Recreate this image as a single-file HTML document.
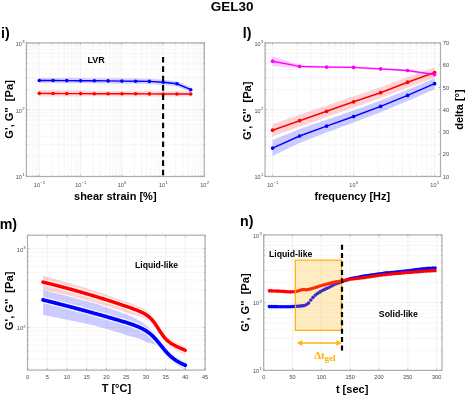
<!DOCTYPE html><html><head><meta charset="utf-8"><style>html,body{margin:0;padding:0;background:#fff;width:465px;height:395px;overflow:hidden}svg{display:block;will-change:transform}</style></head><body><svg width="465" height="395" viewBox="0 0 465 395" font-family='"Liberation Sans", sans-serif'>
<rect width="465" height="395" fill="#fff"/>
<text x="232.2" y="10.9" font-size="13.5" text-anchor="middle" font-weight="bold" fill="#000" >GEL30</text>
<text x="1" y="37.8" font-size="14.2" text-anchor="start" font-weight="bold" fill="#000" >i)</text>
<text x="242.8" y="37.7" font-size="14.2" text-anchor="start" font-weight="bold" fill="#000" >l)</text>
<text x="-0.3" y="228.9" font-size="14.2" text-anchor="start" font-weight="bold" fill="#000" >m)</text>
<text x="240" y="226.3" font-size="14.2" text-anchor="start" font-weight="bold" fill="#000" >n)</text>
<line x1="26.87" y1="42.9" x2="26.87" y2="176.5" stroke="#f1f1f1" stroke-width="0.6"/>
<line x1="30.14" y1="42.9" x2="30.14" y2="176.5" stroke="#f1f1f1" stroke-width="0.6"/>
<line x1="32.9" y1="42.9" x2="32.9" y2="176.5" stroke="#f1f1f1" stroke-width="0.6"/>
<line x1="35.3" y1="42.9" x2="35.3" y2="176.5" stroke="#f1f1f1" stroke-width="0.6"/>
<line x1="37.41" y1="42.9" x2="37.41" y2="176.5" stroke="#f1f1f1" stroke-width="0.6"/>
<line x1="51.73" y1="42.9" x2="51.73" y2="176.5" stroke="#f1f1f1" stroke-width="0.6"/>
<line x1="59.01" y1="42.9" x2="59.01" y2="176.5" stroke="#f1f1f1" stroke-width="0.6"/>
<line x1="64.17" y1="42.9" x2="64.17" y2="176.5" stroke="#f1f1f1" stroke-width="0.6"/>
<line x1="68.17" y1="42.9" x2="68.17" y2="176.5" stroke="#f1f1f1" stroke-width="0.6"/>
<line x1="71.44" y1="42.9" x2="71.44" y2="176.5" stroke="#f1f1f1" stroke-width="0.6"/>
<line x1="74.2" y1="42.9" x2="74.2" y2="176.5" stroke="#f1f1f1" stroke-width="0.6"/>
<line x1="76.6" y1="42.9" x2="76.6" y2="176.5" stroke="#f1f1f1" stroke-width="0.6"/>
<line x1="78.71" y1="42.9" x2="78.71" y2="176.5" stroke="#f1f1f1" stroke-width="0.6"/>
<line x1="93.03" y1="42.9" x2="93.03" y2="176.5" stroke="#f1f1f1" stroke-width="0.6"/>
<line x1="100.31" y1="42.9" x2="100.31" y2="176.5" stroke="#f1f1f1" stroke-width="0.6"/>
<line x1="105.47" y1="42.9" x2="105.47" y2="176.5" stroke="#f1f1f1" stroke-width="0.6"/>
<line x1="109.47" y1="42.9" x2="109.47" y2="176.5" stroke="#f1f1f1" stroke-width="0.6"/>
<line x1="112.74" y1="42.9" x2="112.74" y2="176.5" stroke="#f1f1f1" stroke-width="0.6"/>
<line x1="115.5" y1="42.9" x2="115.5" y2="176.5" stroke="#f1f1f1" stroke-width="0.6"/>
<line x1="117.9" y1="42.9" x2="117.9" y2="176.5" stroke="#f1f1f1" stroke-width="0.6"/>
<line x1="120.01" y1="42.9" x2="120.01" y2="176.5" stroke="#f1f1f1" stroke-width="0.6"/>
<line x1="134.33" y1="42.9" x2="134.33" y2="176.5" stroke="#f1f1f1" stroke-width="0.6"/>
<line x1="141.61" y1="42.9" x2="141.61" y2="176.5" stroke="#f1f1f1" stroke-width="0.6"/>
<line x1="146.77" y1="42.9" x2="146.77" y2="176.5" stroke="#f1f1f1" stroke-width="0.6"/>
<line x1="150.77" y1="42.9" x2="150.77" y2="176.5" stroke="#f1f1f1" stroke-width="0.6"/>
<line x1="154.04" y1="42.9" x2="154.04" y2="176.5" stroke="#f1f1f1" stroke-width="0.6"/>
<line x1="156.8" y1="42.9" x2="156.8" y2="176.5" stroke="#f1f1f1" stroke-width="0.6"/>
<line x1="159.2" y1="42.9" x2="159.2" y2="176.5" stroke="#f1f1f1" stroke-width="0.6"/>
<line x1="161.31" y1="42.9" x2="161.31" y2="176.5" stroke="#f1f1f1" stroke-width="0.6"/>
<line x1="175.63" y1="42.9" x2="175.63" y2="176.5" stroke="#f1f1f1" stroke-width="0.6"/>
<line x1="182.91" y1="42.9" x2="182.91" y2="176.5" stroke="#f1f1f1" stroke-width="0.6"/>
<line x1="188.07" y1="42.9" x2="188.07" y2="176.5" stroke="#f1f1f1" stroke-width="0.6"/>
<line x1="192.07" y1="42.9" x2="192.07" y2="176.5" stroke="#f1f1f1" stroke-width="0.6"/>
<line x1="195.34" y1="42.9" x2="195.34" y2="176.5" stroke="#f1f1f1" stroke-width="0.6"/>
<line x1="198.1" y1="42.9" x2="198.1" y2="176.5" stroke="#f1f1f1" stroke-width="0.6"/>
<line x1="200.5" y1="42.9" x2="200.5" y2="176.5" stroke="#f1f1f1" stroke-width="0.6"/>
<line x1="202.61" y1="42.9" x2="202.61" y2="176.5" stroke="#f1f1f1" stroke-width="0.6"/>
<line x1="39.3" y1="42.9" x2="39.3" y2="176.5" stroke="#e8e8e8" stroke-width="0.6"/>
<line x1="80.6" y1="42.9" x2="80.6" y2="176.5" stroke="#e8e8e8" stroke-width="0.6"/>
<line x1="121.9" y1="42.9" x2="121.9" y2="176.5" stroke="#e8e8e8" stroke-width="0.6"/>
<line x1="163.2" y1="42.9" x2="163.2" y2="176.5" stroke="#e8e8e8" stroke-width="0.6"/>
<line x1="204.5" y1="42.9" x2="204.5" y2="176.5" stroke="#e8e8e8" stroke-width="0.6"/>
<line x1="26.4" y1="156.39" x2="204.3" y2="156.39" stroke="#f1f1f1" stroke-width="0.6"/>
<line x1="26.4" y1="144.63" x2="204.3" y2="144.63" stroke="#f1f1f1" stroke-width="0.6"/>
<line x1="26.4" y1="136.28" x2="204.3" y2="136.28" stroke="#f1f1f1" stroke-width="0.6"/>
<line x1="26.4" y1="129.81" x2="204.3" y2="129.81" stroke="#f1f1f1" stroke-width="0.6"/>
<line x1="26.4" y1="124.52" x2="204.3" y2="124.52" stroke="#f1f1f1" stroke-width="0.6"/>
<line x1="26.4" y1="120.05" x2="204.3" y2="120.05" stroke="#f1f1f1" stroke-width="0.6"/>
<line x1="26.4" y1="116.17" x2="204.3" y2="116.17" stroke="#f1f1f1" stroke-width="0.6"/>
<line x1="26.4" y1="112.76" x2="204.3" y2="112.76" stroke="#f1f1f1" stroke-width="0.6"/>
<line x1="26.4" y1="89.59" x2="204.3" y2="89.59" stroke="#f1f1f1" stroke-width="0.6"/>
<line x1="26.4" y1="77.83" x2="204.3" y2="77.83" stroke="#f1f1f1" stroke-width="0.6"/>
<line x1="26.4" y1="69.48" x2="204.3" y2="69.48" stroke="#f1f1f1" stroke-width="0.6"/>
<line x1="26.4" y1="63.01" x2="204.3" y2="63.01" stroke="#f1f1f1" stroke-width="0.6"/>
<line x1="26.4" y1="57.72" x2="204.3" y2="57.72" stroke="#f1f1f1" stroke-width="0.6"/>
<line x1="26.4" y1="53.25" x2="204.3" y2="53.25" stroke="#f1f1f1" stroke-width="0.6"/>
<line x1="26.4" y1="49.37" x2="204.3" y2="49.37" stroke="#f1f1f1" stroke-width="0.6"/>
<line x1="26.4" y1="45.96" x2="204.3" y2="45.96" stroke="#f1f1f1" stroke-width="0.6"/>
<line x1="26.4" y1="176.5" x2="204.3" y2="176.5" stroke="#e8e8e8" stroke-width="0.6"/>
<line x1="26.4" y1="109.7" x2="204.3" y2="109.7" stroke="#e8e8e8" stroke-width="0.6"/>
<line x1="26.4" y1="42.9" x2="204.3" y2="42.9" stroke="#e8e8e8" stroke-width="0.6"/>
<rect x="26.4" y="42.9" width="177.9" height="133.6" fill="none" stroke="#adadad" stroke-width="1.2"/>
<line x1="39.3" y1="174.5" x2="39.3" y2="176.5" stroke="#a0a0a0" stroke-width="0.6"/>
<line x1="39.3" y1="42.9" x2="39.3" y2="44.9" stroke="#a0a0a0" stroke-width="0.6"/>
<line x1="80.6" y1="174.5" x2="80.6" y2="176.5" stroke="#a0a0a0" stroke-width="0.6"/>
<line x1="80.6" y1="42.9" x2="80.6" y2="44.9" stroke="#a0a0a0" stroke-width="0.6"/>
<line x1="121.9" y1="174.5" x2="121.9" y2="176.5" stroke="#a0a0a0" stroke-width="0.6"/>
<line x1="121.9" y1="42.9" x2="121.9" y2="44.9" stroke="#a0a0a0" stroke-width="0.6"/>
<line x1="163.2" y1="174.5" x2="163.2" y2="176.5" stroke="#a0a0a0" stroke-width="0.6"/>
<line x1="163.2" y1="42.9" x2="163.2" y2="44.9" stroke="#a0a0a0" stroke-width="0.6"/>
<line x1="204.5" y1="174.5" x2="204.5" y2="176.5" stroke="#a0a0a0" stroke-width="0.6"/>
<line x1="204.5" y1="42.9" x2="204.5" y2="44.9" stroke="#a0a0a0" stroke-width="0.6"/>
<line x1="26.87" y1="175.3" x2="26.87" y2="176.5" stroke="#a0a0a0" stroke-width="0.6"/>
<line x1="26.87" y1="42.9" x2="26.87" y2="44.1" stroke="#a0a0a0" stroke-width="0.6"/>
<line x1="30.14" y1="175.3" x2="30.14" y2="176.5" stroke="#a0a0a0" stroke-width="0.6"/>
<line x1="30.14" y1="42.9" x2="30.14" y2="44.1" stroke="#a0a0a0" stroke-width="0.6"/>
<line x1="32.9" y1="175.3" x2="32.9" y2="176.5" stroke="#a0a0a0" stroke-width="0.6"/>
<line x1="32.9" y1="42.9" x2="32.9" y2="44.1" stroke="#a0a0a0" stroke-width="0.6"/>
<line x1="35.3" y1="175.3" x2="35.3" y2="176.5" stroke="#a0a0a0" stroke-width="0.6"/>
<line x1="35.3" y1="42.9" x2="35.3" y2="44.1" stroke="#a0a0a0" stroke-width="0.6"/>
<line x1="37.41" y1="175.3" x2="37.41" y2="176.5" stroke="#a0a0a0" stroke-width="0.6"/>
<line x1="37.41" y1="42.9" x2="37.41" y2="44.1" stroke="#a0a0a0" stroke-width="0.6"/>
<line x1="51.73" y1="175.3" x2="51.73" y2="176.5" stroke="#a0a0a0" stroke-width="0.6"/>
<line x1="51.73" y1="42.9" x2="51.73" y2="44.1" stroke="#a0a0a0" stroke-width="0.6"/>
<line x1="59.01" y1="175.3" x2="59.01" y2="176.5" stroke="#a0a0a0" stroke-width="0.6"/>
<line x1="59.01" y1="42.9" x2="59.01" y2="44.1" stroke="#a0a0a0" stroke-width="0.6"/>
<line x1="64.17" y1="175.3" x2="64.17" y2="176.5" stroke="#a0a0a0" stroke-width="0.6"/>
<line x1="64.17" y1="42.9" x2="64.17" y2="44.1" stroke="#a0a0a0" stroke-width="0.6"/>
<line x1="68.17" y1="175.3" x2="68.17" y2="176.5" stroke="#a0a0a0" stroke-width="0.6"/>
<line x1="68.17" y1="42.9" x2="68.17" y2="44.1" stroke="#a0a0a0" stroke-width="0.6"/>
<line x1="71.44" y1="175.3" x2="71.44" y2="176.5" stroke="#a0a0a0" stroke-width="0.6"/>
<line x1="71.44" y1="42.9" x2="71.44" y2="44.1" stroke="#a0a0a0" stroke-width="0.6"/>
<line x1="74.2" y1="175.3" x2="74.2" y2="176.5" stroke="#a0a0a0" stroke-width="0.6"/>
<line x1="74.2" y1="42.9" x2="74.2" y2="44.1" stroke="#a0a0a0" stroke-width="0.6"/>
<line x1="76.6" y1="175.3" x2="76.6" y2="176.5" stroke="#a0a0a0" stroke-width="0.6"/>
<line x1="76.6" y1="42.9" x2="76.6" y2="44.1" stroke="#a0a0a0" stroke-width="0.6"/>
<line x1="78.71" y1="175.3" x2="78.71" y2="176.5" stroke="#a0a0a0" stroke-width="0.6"/>
<line x1="78.71" y1="42.9" x2="78.71" y2="44.1" stroke="#a0a0a0" stroke-width="0.6"/>
<line x1="93.03" y1="175.3" x2="93.03" y2="176.5" stroke="#a0a0a0" stroke-width="0.6"/>
<line x1="93.03" y1="42.9" x2="93.03" y2="44.1" stroke="#a0a0a0" stroke-width="0.6"/>
<line x1="100.31" y1="175.3" x2="100.31" y2="176.5" stroke="#a0a0a0" stroke-width="0.6"/>
<line x1="100.31" y1="42.9" x2="100.31" y2="44.1" stroke="#a0a0a0" stroke-width="0.6"/>
<line x1="105.47" y1="175.3" x2="105.47" y2="176.5" stroke="#a0a0a0" stroke-width="0.6"/>
<line x1="105.47" y1="42.9" x2="105.47" y2="44.1" stroke="#a0a0a0" stroke-width="0.6"/>
<line x1="109.47" y1="175.3" x2="109.47" y2="176.5" stroke="#a0a0a0" stroke-width="0.6"/>
<line x1="109.47" y1="42.9" x2="109.47" y2="44.1" stroke="#a0a0a0" stroke-width="0.6"/>
<line x1="112.74" y1="175.3" x2="112.74" y2="176.5" stroke="#a0a0a0" stroke-width="0.6"/>
<line x1="112.74" y1="42.9" x2="112.74" y2="44.1" stroke="#a0a0a0" stroke-width="0.6"/>
<line x1="115.5" y1="175.3" x2="115.5" y2="176.5" stroke="#a0a0a0" stroke-width="0.6"/>
<line x1="115.5" y1="42.9" x2="115.5" y2="44.1" stroke="#a0a0a0" stroke-width="0.6"/>
<line x1="117.9" y1="175.3" x2="117.9" y2="176.5" stroke="#a0a0a0" stroke-width="0.6"/>
<line x1="117.9" y1="42.9" x2="117.9" y2="44.1" stroke="#a0a0a0" stroke-width="0.6"/>
<line x1="120.01" y1="175.3" x2="120.01" y2="176.5" stroke="#a0a0a0" stroke-width="0.6"/>
<line x1="120.01" y1="42.9" x2="120.01" y2="44.1" stroke="#a0a0a0" stroke-width="0.6"/>
<line x1="134.33" y1="175.3" x2="134.33" y2="176.5" stroke="#a0a0a0" stroke-width="0.6"/>
<line x1="134.33" y1="42.9" x2="134.33" y2="44.1" stroke="#a0a0a0" stroke-width="0.6"/>
<line x1="141.61" y1="175.3" x2="141.61" y2="176.5" stroke="#a0a0a0" stroke-width="0.6"/>
<line x1="141.61" y1="42.9" x2="141.61" y2="44.1" stroke="#a0a0a0" stroke-width="0.6"/>
<line x1="146.77" y1="175.3" x2="146.77" y2="176.5" stroke="#a0a0a0" stroke-width="0.6"/>
<line x1="146.77" y1="42.9" x2="146.77" y2="44.1" stroke="#a0a0a0" stroke-width="0.6"/>
<line x1="150.77" y1="175.3" x2="150.77" y2="176.5" stroke="#a0a0a0" stroke-width="0.6"/>
<line x1="150.77" y1="42.9" x2="150.77" y2="44.1" stroke="#a0a0a0" stroke-width="0.6"/>
<line x1="154.04" y1="175.3" x2="154.04" y2="176.5" stroke="#a0a0a0" stroke-width="0.6"/>
<line x1="154.04" y1="42.9" x2="154.04" y2="44.1" stroke="#a0a0a0" stroke-width="0.6"/>
<line x1="156.8" y1="175.3" x2="156.8" y2="176.5" stroke="#a0a0a0" stroke-width="0.6"/>
<line x1="156.8" y1="42.9" x2="156.8" y2="44.1" stroke="#a0a0a0" stroke-width="0.6"/>
<line x1="159.2" y1="175.3" x2="159.2" y2="176.5" stroke="#a0a0a0" stroke-width="0.6"/>
<line x1="159.2" y1="42.9" x2="159.2" y2="44.1" stroke="#a0a0a0" stroke-width="0.6"/>
<line x1="161.31" y1="175.3" x2="161.31" y2="176.5" stroke="#a0a0a0" stroke-width="0.6"/>
<line x1="161.31" y1="42.9" x2="161.31" y2="44.1" stroke="#a0a0a0" stroke-width="0.6"/>
<line x1="175.63" y1="175.3" x2="175.63" y2="176.5" stroke="#a0a0a0" stroke-width="0.6"/>
<line x1="175.63" y1="42.9" x2="175.63" y2="44.1" stroke="#a0a0a0" stroke-width="0.6"/>
<line x1="182.91" y1="175.3" x2="182.91" y2="176.5" stroke="#a0a0a0" stroke-width="0.6"/>
<line x1="182.91" y1="42.9" x2="182.91" y2="44.1" stroke="#a0a0a0" stroke-width="0.6"/>
<line x1="188.07" y1="175.3" x2="188.07" y2="176.5" stroke="#a0a0a0" stroke-width="0.6"/>
<line x1="188.07" y1="42.9" x2="188.07" y2="44.1" stroke="#a0a0a0" stroke-width="0.6"/>
<line x1="192.07" y1="175.3" x2="192.07" y2="176.5" stroke="#a0a0a0" stroke-width="0.6"/>
<line x1="192.07" y1="42.9" x2="192.07" y2="44.1" stroke="#a0a0a0" stroke-width="0.6"/>
<line x1="195.34" y1="175.3" x2="195.34" y2="176.5" stroke="#a0a0a0" stroke-width="0.6"/>
<line x1="195.34" y1="42.9" x2="195.34" y2="44.1" stroke="#a0a0a0" stroke-width="0.6"/>
<line x1="198.1" y1="175.3" x2="198.1" y2="176.5" stroke="#a0a0a0" stroke-width="0.6"/>
<line x1="198.1" y1="42.9" x2="198.1" y2="44.1" stroke="#a0a0a0" stroke-width="0.6"/>
<line x1="200.5" y1="175.3" x2="200.5" y2="176.5" stroke="#a0a0a0" stroke-width="0.6"/>
<line x1="200.5" y1="42.9" x2="200.5" y2="44.1" stroke="#a0a0a0" stroke-width="0.6"/>
<line x1="202.61" y1="175.3" x2="202.61" y2="176.5" stroke="#a0a0a0" stroke-width="0.6"/>
<line x1="202.61" y1="42.9" x2="202.61" y2="44.1" stroke="#a0a0a0" stroke-width="0.6"/>
<line x1="26.4" y1="176.5" x2="28.4" y2="176.5" stroke="#a0a0a0" stroke-width="0.6"/>
<line x1="202.3" y1="176.5" x2="204.3" y2="176.5" stroke="#a0a0a0" stroke-width="0.6"/>
<line x1="26.4" y1="109.7" x2="28.4" y2="109.7" stroke="#a0a0a0" stroke-width="0.6"/>
<line x1="202.3" y1="109.7" x2="204.3" y2="109.7" stroke="#a0a0a0" stroke-width="0.6"/>
<line x1="26.4" y1="42.9" x2="28.4" y2="42.9" stroke="#a0a0a0" stroke-width="0.6"/>
<line x1="202.3" y1="42.9" x2="204.3" y2="42.9" stroke="#a0a0a0" stroke-width="0.6"/>
<line x1="26.4" y1="156.39" x2="27.6" y2="156.39" stroke="#a0a0a0" stroke-width="0.6"/>
<line x1="203.1" y1="156.39" x2="204.3" y2="156.39" stroke="#a0a0a0" stroke-width="0.6"/>
<line x1="26.4" y1="144.63" x2="27.6" y2="144.63" stroke="#a0a0a0" stroke-width="0.6"/>
<line x1="203.1" y1="144.63" x2="204.3" y2="144.63" stroke="#a0a0a0" stroke-width="0.6"/>
<line x1="26.4" y1="136.28" x2="27.6" y2="136.28" stroke="#a0a0a0" stroke-width="0.6"/>
<line x1="203.1" y1="136.28" x2="204.3" y2="136.28" stroke="#a0a0a0" stroke-width="0.6"/>
<line x1="26.4" y1="129.81" x2="27.6" y2="129.81" stroke="#a0a0a0" stroke-width="0.6"/>
<line x1="203.1" y1="129.81" x2="204.3" y2="129.81" stroke="#a0a0a0" stroke-width="0.6"/>
<line x1="26.4" y1="124.52" x2="27.6" y2="124.52" stroke="#a0a0a0" stroke-width="0.6"/>
<line x1="203.1" y1="124.52" x2="204.3" y2="124.52" stroke="#a0a0a0" stroke-width="0.6"/>
<line x1="26.4" y1="120.05" x2="27.6" y2="120.05" stroke="#a0a0a0" stroke-width="0.6"/>
<line x1="203.1" y1="120.05" x2="204.3" y2="120.05" stroke="#a0a0a0" stroke-width="0.6"/>
<line x1="26.4" y1="116.17" x2="27.6" y2="116.17" stroke="#a0a0a0" stroke-width="0.6"/>
<line x1="203.1" y1="116.17" x2="204.3" y2="116.17" stroke="#a0a0a0" stroke-width="0.6"/>
<line x1="26.4" y1="112.76" x2="27.6" y2="112.76" stroke="#a0a0a0" stroke-width="0.6"/>
<line x1="203.1" y1="112.76" x2="204.3" y2="112.76" stroke="#a0a0a0" stroke-width="0.6"/>
<line x1="26.4" y1="89.59" x2="27.6" y2="89.59" stroke="#a0a0a0" stroke-width="0.6"/>
<line x1="203.1" y1="89.59" x2="204.3" y2="89.59" stroke="#a0a0a0" stroke-width="0.6"/>
<line x1="26.4" y1="77.83" x2="27.6" y2="77.83" stroke="#a0a0a0" stroke-width="0.6"/>
<line x1="203.1" y1="77.83" x2="204.3" y2="77.83" stroke="#a0a0a0" stroke-width="0.6"/>
<line x1="26.4" y1="69.48" x2="27.6" y2="69.48" stroke="#a0a0a0" stroke-width="0.6"/>
<line x1="203.1" y1="69.48" x2="204.3" y2="69.48" stroke="#a0a0a0" stroke-width="0.6"/>
<line x1="26.4" y1="63.01" x2="27.6" y2="63.01" stroke="#a0a0a0" stroke-width="0.6"/>
<line x1="203.1" y1="63.01" x2="204.3" y2="63.01" stroke="#a0a0a0" stroke-width="0.6"/>
<line x1="26.4" y1="57.72" x2="27.6" y2="57.72" stroke="#a0a0a0" stroke-width="0.6"/>
<line x1="203.1" y1="57.72" x2="204.3" y2="57.72" stroke="#a0a0a0" stroke-width="0.6"/>
<line x1="26.4" y1="53.25" x2="27.6" y2="53.25" stroke="#a0a0a0" stroke-width="0.6"/>
<line x1="203.1" y1="53.25" x2="204.3" y2="53.25" stroke="#a0a0a0" stroke-width="0.6"/>
<line x1="26.4" y1="49.37" x2="27.6" y2="49.37" stroke="#a0a0a0" stroke-width="0.6"/>
<line x1="203.1" y1="49.37" x2="204.3" y2="49.37" stroke="#a0a0a0" stroke-width="0.6"/>
<line x1="26.4" y1="45.96" x2="27.6" y2="45.96" stroke="#a0a0a0" stroke-width="0.6"/>
<line x1="203.1" y1="45.96" x2="204.3" y2="45.96" stroke="#a0a0a0" stroke-width="0.6"/>
<text x="33.85" y="186.8" font-size="5.5" fill="#484848">10</text>
<text x="40.26" y="183.9" font-size="4.2" fill="#484848">&#8722;2</text>
<text x="75.15" y="186.8" font-size="5.5" fill="#484848">10</text>
<text x="81.56" y="183.9" font-size="4.2" fill="#484848">&#8722;1</text>
<text x="117.67" y="186.8" font-size="5.5" fill="#484848">10</text>
<text x="124.09" y="183.9" font-size="4.2" fill="#484848">0</text>
<text x="158.97" y="186.8" font-size="5.5" fill="#484848">10</text>
<text x="165.39" y="183.9" font-size="4.2" fill="#484848">1</text>
<text x="200.27" y="186.8" font-size="5.5" fill="#484848">10</text>
<text x="206.69" y="183.9" font-size="4.2" fill="#484848">2</text>
<text x="15.75" y="179.3" font-size="5.5" fill="#484848">10</text>
<text x="22.16" y="176.4" font-size="4.2" fill="#484848">1</text>
<text x="15.75" y="112.5" font-size="5.5" fill="#484848">10</text>
<text x="22.16" y="109.6" font-size="4.2" fill="#484848">2</text>
<text x="15.75" y="45.7" font-size="5.5" fill="#484848">10</text>
<text x="22.16" y="42.8" font-size="4.2" fill="#484848">3</text>
<path d="M39.3,77.9 L53.07,77.9 L66.83,78 L80.6,78.1 L94.37,78.2 L108.13,78.3 L121.9,78.5 L135.67,78.6 L149.43,78.8 L163.2,79.7 L176.97,81.2 L190.73,87.1 L190.73,92.3 L176.97,86.4 L163.2,84.9 L149.43,84 L135.67,83.8 L121.9,83.7 L108.13,83.5 L94.37,83.4 L80.6,83.3 L66.83,83.2 L53.07,83.1 L39.3,83.1 Z" fill="#0000ff" fill-opacity="0.18" stroke="none"/>
<path d="M39.3,90.1 L53.07,90.2 L66.83,90.3 L80.6,90.3 L94.37,90.9 L108.13,90.9 L121.9,91 L135.67,91 L149.43,91.1 L163.2,91.2 L176.97,91.2 L190.73,91.2 L190.73,96.6 L176.97,96.6 L163.2,96.6 L149.43,96.5 L135.67,96.4 L121.9,96.4 L108.13,96.3 L94.37,96.3 L80.6,96.6 L66.83,96.6 L53.07,96.5 L39.3,96.4 Z" fill="#ff0000" fill-opacity="0.15" stroke="none"/>
<path d="M39.3,80.5 L53.07,80.5 L66.83,80.6 L80.6,80.7 L94.37,80.8 L108.13,80.9 L121.9,81.1 L135.67,81.2 L149.43,81.4 L163.2,82.3 L176.97,83.8 L190.73,89.7" fill="none" stroke="#0000ff" stroke-width="1.45"/>
<path d="M39.3,93.4 L53.07,93.5 L66.83,93.6 L80.6,93.6 L94.37,93.7 L108.13,93.7 L121.9,93.8 L135.67,93.8 L149.43,93.9 L163.2,94 L176.97,94 L190.73,94" fill="none" stroke="#ff0000" stroke-width="1.45"/>
<circle cx="39.3" cy="80.5" r="1.8" fill="#0000ff"/>
<circle cx="53.07" cy="80.5" r="1.8" fill="#0000ff"/>
<circle cx="66.83" cy="80.6" r="1.8" fill="#0000ff"/>
<circle cx="80.6" cy="80.7" r="1.8" fill="#0000ff"/>
<circle cx="94.37" cy="80.8" r="1.8" fill="#0000ff"/>
<circle cx="108.13" cy="80.9" r="1.8" fill="#0000ff"/>
<circle cx="121.9" cy="81.1" r="1.8" fill="#0000ff"/>
<circle cx="135.67" cy="81.2" r="1.8" fill="#0000ff"/>
<circle cx="149.43" cy="81.4" r="1.8" fill="#0000ff"/>
<circle cx="163.2" cy="82.3" r="1.8" fill="#0000ff"/>
<circle cx="176.97" cy="83.8" r="1.8" fill="#0000ff"/>
<circle cx="190.73" cy="89.7" r="1.8" fill="#0000ff"/>
<circle cx="39.3" cy="93.4" r="1.8" fill="#ff0000"/>
<circle cx="53.07" cy="93.5" r="1.8" fill="#ff0000"/>
<circle cx="66.83" cy="93.6" r="1.8" fill="#ff0000"/>
<circle cx="80.6" cy="93.6" r="1.8" fill="#ff0000"/>
<circle cx="94.37" cy="93.7" r="1.8" fill="#ff0000"/>
<circle cx="108.13" cy="93.7" r="1.8" fill="#ff0000"/>
<circle cx="121.9" cy="93.8" r="1.8" fill="#ff0000"/>
<circle cx="135.67" cy="93.8" r="1.8" fill="#ff0000"/>
<circle cx="149.43" cy="93.9" r="1.8" fill="#ff0000"/>
<circle cx="163.2" cy="94" r="1.8" fill="#ff0000"/>
<circle cx="176.97" cy="94" r="1.8" fill="#ff0000"/>
<circle cx="190.73" cy="94" r="1.8" fill="#ff0000"/>
<line x1="163.1" y1="56.9" x2="163.1" y2="175.5" stroke="#000" stroke-width="2.1" stroke-dasharray="5.6,3.8"/>
<text x="87.4" y="63.2" font-size="9" text-anchor="start" font-weight="bold" fill="#000" >LVR</text>
<text x="115.3" y="199.7" font-size="11" text-anchor="middle" font-weight="bold" fill="#000" >shear strain [%]</text>
<text transform="translate(12.6,109.4) rotate(-90)" font-size="11.1" font-weight="bold" text-anchor="middle" fill="#000" xml:space="preserve">G', G''  [Pa]</text>
<line x1="264.75" y1="42.9" x2="264.75" y2="176.5" stroke="#f1f1f1" stroke-width="0.6"/>
<line x1="268.89" y1="42.9" x2="268.89" y2="176.5" stroke="#f1f1f1" stroke-width="0.6"/>
<line x1="296.98" y1="42.9" x2="296.98" y2="176.5" stroke="#f1f1f1" stroke-width="0.6"/>
<line x1="311.25" y1="42.9" x2="311.25" y2="176.5" stroke="#f1f1f1" stroke-width="0.6"/>
<line x1="321.37" y1="42.9" x2="321.37" y2="176.5" stroke="#f1f1f1" stroke-width="0.6"/>
<line x1="329.22" y1="42.9" x2="329.22" y2="176.5" stroke="#f1f1f1" stroke-width="0.6"/>
<line x1="335.63" y1="42.9" x2="335.63" y2="176.5" stroke="#f1f1f1" stroke-width="0.6"/>
<line x1="341.05" y1="42.9" x2="341.05" y2="176.5" stroke="#f1f1f1" stroke-width="0.6"/>
<line x1="345.75" y1="42.9" x2="345.75" y2="176.5" stroke="#f1f1f1" stroke-width="0.6"/>
<line x1="349.89" y1="42.9" x2="349.89" y2="176.5" stroke="#f1f1f1" stroke-width="0.6"/>
<line x1="377.98" y1="42.9" x2="377.98" y2="176.5" stroke="#f1f1f1" stroke-width="0.6"/>
<line x1="392.25" y1="42.9" x2="392.25" y2="176.5" stroke="#f1f1f1" stroke-width="0.6"/>
<line x1="402.37" y1="42.9" x2="402.37" y2="176.5" stroke="#f1f1f1" stroke-width="0.6"/>
<line x1="410.22" y1="42.9" x2="410.22" y2="176.5" stroke="#f1f1f1" stroke-width="0.6"/>
<line x1="416.63" y1="42.9" x2="416.63" y2="176.5" stroke="#f1f1f1" stroke-width="0.6"/>
<line x1="422.05" y1="42.9" x2="422.05" y2="176.5" stroke="#f1f1f1" stroke-width="0.6"/>
<line x1="426.75" y1="42.9" x2="426.75" y2="176.5" stroke="#f1f1f1" stroke-width="0.6"/>
<line x1="430.89" y1="42.9" x2="430.89" y2="176.5" stroke="#f1f1f1" stroke-width="0.6"/>
<line x1="272.6" y1="42.9" x2="272.6" y2="176.5" stroke="#e8e8e8" stroke-width="0.6"/>
<line x1="353.6" y1="42.9" x2="353.6" y2="176.5" stroke="#e8e8e8" stroke-width="0.6"/>
<line x1="434.6" y1="42.9" x2="434.6" y2="176.5" stroke="#e8e8e8" stroke-width="0.6"/>
<line x1="265.1" y1="156.39" x2="440.5" y2="156.39" stroke="#f1f1f1" stroke-width="0.6"/>
<line x1="265.1" y1="144.63" x2="440.5" y2="144.63" stroke="#f1f1f1" stroke-width="0.6"/>
<line x1="265.1" y1="136.28" x2="440.5" y2="136.28" stroke="#f1f1f1" stroke-width="0.6"/>
<line x1="265.1" y1="129.81" x2="440.5" y2="129.81" stroke="#f1f1f1" stroke-width="0.6"/>
<line x1="265.1" y1="124.52" x2="440.5" y2="124.52" stroke="#f1f1f1" stroke-width="0.6"/>
<line x1="265.1" y1="120.05" x2="440.5" y2="120.05" stroke="#f1f1f1" stroke-width="0.6"/>
<line x1="265.1" y1="116.17" x2="440.5" y2="116.17" stroke="#f1f1f1" stroke-width="0.6"/>
<line x1="265.1" y1="112.76" x2="440.5" y2="112.76" stroke="#f1f1f1" stroke-width="0.6"/>
<line x1="265.1" y1="89.59" x2="440.5" y2="89.59" stroke="#f1f1f1" stroke-width="0.6"/>
<line x1="265.1" y1="77.83" x2="440.5" y2="77.83" stroke="#f1f1f1" stroke-width="0.6"/>
<line x1="265.1" y1="69.48" x2="440.5" y2="69.48" stroke="#f1f1f1" stroke-width="0.6"/>
<line x1="265.1" y1="63.01" x2="440.5" y2="63.01" stroke="#f1f1f1" stroke-width="0.6"/>
<line x1="265.1" y1="57.72" x2="440.5" y2="57.72" stroke="#f1f1f1" stroke-width="0.6"/>
<line x1="265.1" y1="53.25" x2="440.5" y2="53.25" stroke="#f1f1f1" stroke-width="0.6"/>
<line x1="265.1" y1="49.37" x2="440.5" y2="49.37" stroke="#f1f1f1" stroke-width="0.6"/>
<line x1="265.1" y1="45.96" x2="440.5" y2="45.96" stroke="#f1f1f1" stroke-width="0.6"/>
<line x1="265.1" y1="176.5" x2="440.5" y2="176.5" stroke="#e8e8e8" stroke-width="0.6"/>
<line x1="265.1" y1="109.7" x2="440.5" y2="109.7" stroke="#e8e8e8" stroke-width="0.6"/>
<line x1="265.1" y1="42.9" x2="440.5" y2="42.9" stroke="#e8e8e8" stroke-width="0.6"/>
<rect x="265.1" y="42.9" width="175.4" height="133.6" fill="none" stroke="#adadad" stroke-width="1.2"/>
<line x1="272.6" y1="174.5" x2="272.6" y2="176.5" stroke="#a0a0a0" stroke-width="0.6"/>
<line x1="272.6" y1="42.9" x2="272.6" y2="44.9" stroke="#a0a0a0" stroke-width="0.6"/>
<line x1="353.6" y1="174.5" x2="353.6" y2="176.5" stroke="#a0a0a0" stroke-width="0.6"/>
<line x1="353.6" y1="42.9" x2="353.6" y2="44.9" stroke="#a0a0a0" stroke-width="0.6"/>
<line x1="434.6" y1="174.5" x2="434.6" y2="176.5" stroke="#a0a0a0" stroke-width="0.6"/>
<line x1="434.6" y1="42.9" x2="434.6" y2="44.9" stroke="#a0a0a0" stroke-width="0.6"/>
<line x1="264.75" y1="175.3" x2="264.75" y2="176.5" stroke="#a0a0a0" stroke-width="0.6"/>
<line x1="264.75" y1="42.9" x2="264.75" y2="44.1" stroke="#a0a0a0" stroke-width="0.6"/>
<line x1="268.89" y1="175.3" x2="268.89" y2="176.5" stroke="#a0a0a0" stroke-width="0.6"/>
<line x1="268.89" y1="42.9" x2="268.89" y2="44.1" stroke="#a0a0a0" stroke-width="0.6"/>
<line x1="296.98" y1="175.3" x2="296.98" y2="176.5" stroke="#a0a0a0" stroke-width="0.6"/>
<line x1="296.98" y1="42.9" x2="296.98" y2="44.1" stroke="#a0a0a0" stroke-width="0.6"/>
<line x1="311.25" y1="175.3" x2="311.25" y2="176.5" stroke="#a0a0a0" stroke-width="0.6"/>
<line x1="311.25" y1="42.9" x2="311.25" y2="44.1" stroke="#a0a0a0" stroke-width="0.6"/>
<line x1="321.37" y1="175.3" x2="321.37" y2="176.5" stroke="#a0a0a0" stroke-width="0.6"/>
<line x1="321.37" y1="42.9" x2="321.37" y2="44.1" stroke="#a0a0a0" stroke-width="0.6"/>
<line x1="329.22" y1="175.3" x2="329.22" y2="176.5" stroke="#a0a0a0" stroke-width="0.6"/>
<line x1="329.22" y1="42.9" x2="329.22" y2="44.1" stroke="#a0a0a0" stroke-width="0.6"/>
<line x1="335.63" y1="175.3" x2="335.63" y2="176.5" stroke="#a0a0a0" stroke-width="0.6"/>
<line x1="335.63" y1="42.9" x2="335.63" y2="44.1" stroke="#a0a0a0" stroke-width="0.6"/>
<line x1="341.05" y1="175.3" x2="341.05" y2="176.5" stroke="#a0a0a0" stroke-width="0.6"/>
<line x1="341.05" y1="42.9" x2="341.05" y2="44.1" stroke="#a0a0a0" stroke-width="0.6"/>
<line x1="345.75" y1="175.3" x2="345.75" y2="176.5" stroke="#a0a0a0" stroke-width="0.6"/>
<line x1="345.75" y1="42.9" x2="345.75" y2="44.1" stroke="#a0a0a0" stroke-width="0.6"/>
<line x1="349.89" y1="175.3" x2="349.89" y2="176.5" stroke="#a0a0a0" stroke-width="0.6"/>
<line x1="349.89" y1="42.9" x2="349.89" y2="44.1" stroke="#a0a0a0" stroke-width="0.6"/>
<line x1="377.98" y1="175.3" x2="377.98" y2="176.5" stroke="#a0a0a0" stroke-width="0.6"/>
<line x1="377.98" y1="42.9" x2="377.98" y2="44.1" stroke="#a0a0a0" stroke-width="0.6"/>
<line x1="392.25" y1="175.3" x2="392.25" y2="176.5" stroke="#a0a0a0" stroke-width="0.6"/>
<line x1="392.25" y1="42.9" x2="392.25" y2="44.1" stroke="#a0a0a0" stroke-width="0.6"/>
<line x1="402.37" y1="175.3" x2="402.37" y2="176.5" stroke="#a0a0a0" stroke-width="0.6"/>
<line x1="402.37" y1="42.9" x2="402.37" y2="44.1" stroke="#a0a0a0" stroke-width="0.6"/>
<line x1="410.22" y1="175.3" x2="410.22" y2="176.5" stroke="#a0a0a0" stroke-width="0.6"/>
<line x1="410.22" y1="42.9" x2="410.22" y2="44.1" stroke="#a0a0a0" stroke-width="0.6"/>
<line x1="416.63" y1="175.3" x2="416.63" y2="176.5" stroke="#a0a0a0" stroke-width="0.6"/>
<line x1="416.63" y1="42.9" x2="416.63" y2="44.1" stroke="#a0a0a0" stroke-width="0.6"/>
<line x1="422.05" y1="175.3" x2="422.05" y2="176.5" stroke="#a0a0a0" stroke-width="0.6"/>
<line x1="422.05" y1="42.9" x2="422.05" y2="44.1" stroke="#a0a0a0" stroke-width="0.6"/>
<line x1="426.75" y1="175.3" x2="426.75" y2="176.5" stroke="#a0a0a0" stroke-width="0.6"/>
<line x1="426.75" y1="42.9" x2="426.75" y2="44.1" stroke="#a0a0a0" stroke-width="0.6"/>
<line x1="430.89" y1="175.3" x2="430.89" y2="176.5" stroke="#a0a0a0" stroke-width="0.6"/>
<line x1="430.89" y1="42.9" x2="430.89" y2="44.1" stroke="#a0a0a0" stroke-width="0.6"/>
<line x1="265.1" y1="176.5" x2="267.1" y2="176.5" stroke="#a0a0a0" stroke-width="0.6"/>
<line x1="265.1" y1="109.7" x2="267.1" y2="109.7" stroke="#a0a0a0" stroke-width="0.6"/>
<line x1="265.1" y1="42.9" x2="267.1" y2="42.9" stroke="#a0a0a0" stroke-width="0.6"/>
<line x1="265.1" y1="156.39" x2="266.3" y2="156.39" stroke="#a0a0a0" stroke-width="0.6"/>
<line x1="265.1" y1="144.63" x2="266.3" y2="144.63" stroke="#a0a0a0" stroke-width="0.6"/>
<line x1="265.1" y1="136.28" x2="266.3" y2="136.28" stroke="#a0a0a0" stroke-width="0.6"/>
<line x1="265.1" y1="129.81" x2="266.3" y2="129.81" stroke="#a0a0a0" stroke-width="0.6"/>
<line x1="265.1" y1="124.52" x2="266.3" y2="124.52" stroke="#a0a0a0" stroke-width="0.6"/>
<line x1="265.1" y1="120.05" x2="266.3" y2="120.05" stroke="#a0a0a0" stroke-width="0.6"/>
<line x1="265.1" y1="116.17" x2="266.3" y2="116.17" stroke="#a0a0a0" stroke-width="0.6"/>
<line x1="265.1" y1="112.76" x2="266.3" y2="112.76" stroke="#a0a0a0" stroke-width="0.6"/>
<line x1="265.1" y1="89.59" x2="266.3" y2="89.59" stroke="#a0a0a0" stroke-width="0.6"/>
<line x1="265.1" y1="77.83" x2="266.3" y2="77.83" stroke="#a0a0a0" stroke-width="0.6"/>
<line x1="265.1" y1="69.48" x2="266.3" y2="69.48" stroke="#a0a0a0" stroke-width="0.6"/>
<line x1="265.1" y1="63.01" x2="266.3" y2="63.01" stroke="#a0a0a0" stroke-width="0.6"/>
<line x1="265.1" y1="57.72" x2="266.3" y2="57.72" stroke="#a0a0a0" stroke-width="0.6"/>
<line x1="265.1" y1="53.25" x2="266.3" y2="53.25" stroke="#a0a0a0" stroke-width="0.6"/>
<line x1="265.1" y1="49.37" x2="266.3" y2="49.37" stroke="#a0a0a0" stroke-width="0.6"/>
<line x1="265.1" y1="45.96" x2="266.3" y2="45.96" stroke="#a0a0a0" stroke-width="0.6"/>
<line x1="438.5" y1="176.5" x2="440.5" y2="176.5" stroke="#a0a0a0" stroke-width="0.6"/>
<text x="442.8" y="178.6" font-size="5.7" fill="#484848">10</text>
<line x1="438.5" y1="154.23" x2="440.5" y2="154.23" stroke="#a0a0a0" stroke-width="0.6"/>
<text x="442.8" y="156.33" font-size="5.7" fill="#484848">20</text>
<line x1="438.5" y1="131.97" x2="440.5" y2="131.97" stroke="#a0a0a0" stroke-width="0.6"/>
<text x="442.8" y="134.07" font-size="5.7" fill="#484848">30</text>
<line x1="438.5" y1="109.7" x2="440.5" y2="109.7" stroke="#a0a0a0" stroke-width="0.6"/>
<text x="442.8" y="111.8" font-size="5.7" fill="#484848">40</text>
<line x1="438.5" y1="87.43" x2="440.5" y2="87.43" stroke="#a0a0a0" stroke-width="0.6"/>
<text x="442.8" y="89.53" font-size="5.7" fill="#484848">50</text>
<line x1="438.5" y1="65.17" x2="440.5" y2="65.17" stroke="#a0a0a0" stroke-width="0.6"/>
<text x="442.8" y="67.27" font-size="5.7" fill="#484848">60</text>
<line x1="438.5" y1="42.9" x2="440.5" y2="42.9" stroke="#a0a0a0" stroke-width="0.6"/>
<text x="442.8" y="45" font-size="5.7" fill="#484848">70</text>
<text x="267.15" y="186.8" font-size="5.5" fill="#484848">10</text>
<text x="273.56" y="183.9" font-size="4.2" fill="#484848">&#8722;1</text>
<text x="349.37" y="186.8" font-size="5.5" fill="#484848">10</text>
<text x="355.79" y="183.9" font-size="4.2" fill="#484848">0</text>
<text x="430.37" y="186.8" font-size="5.5" fill="#484848">10</text>
<text x="436.79" y="183.9" font-size="4.2" fill="#484848">1</text>
<text x="254.55" y="179.3" font-size="5.5" fill="#484848">10</text>
<text x="260.96" y="176.4" font-size="4.2" fill="#484848">1</text>
<text x="254.55" y="112.5" font-size="5.5" fill="#484848">10</text>
<text x="260.96" y="109.6" font-size="4.2" fill="#484848">2</text>
<text x="254.55" y="45.7" font-size="5.5" fill="#484848">10</text>
<text x="260.96" y="42.8" font-size="4.2" fill="#484848">3</text>
<path d="M272.6,140.1 L299.6,129 L326.6,119.7 L353.6,110.5 L380.6,100.6 L407.6,89.8 L434.6,78.2 L434.6,89.2 L407.6,101 L380.6,112.2 L353.6,122.5 L326.6,132.5 L299.6,143 L272.6,156.1 Z" fill="#0000ff" fill-opacity="0.2" stroke="none"/>
<path d="M272.6,123.9 L299.6,114.7 L326.6,105.5 L353.6,96.2 L380.6,87.3 L407.6,77 L434.6,67.3 L434.6,77.7 L407.6,87.4 L380.6,98.1 L353.6,107.4 L326.6,117.1 L299.6,126.7 L272.6,136.5 Z" fill="#ff0000" fill-opacity="0.17" stroke="none"/>
<path d="M272.6,56.2 L299.6,64.9 L326.6,66.1 L353.6,66.4 L380.6,67.9 L407.6,69.5 L434.6,73.1 L434.6,76.1 L407.6,71.5 L380.6,69.9 L353.6,68.4 L326.6,68.1 L299.6,67.9 L272.6,66.2 Z" fill="#ff00ff" fill-opacity="0.2" stroke="none"/>
<path d="M272.6,148.1 L299.6,136 L326.6,126.1 L353.6,116.5 L380.6,106.4 L407.6,95.4 L434.6,83.7" fill="none" stroke="#0000ff" stroke-width="1.45"/>
<circle cx="272.6" cy="148.1" r="1.85" fill="#0000ff"/>
<circle cx="299.6" cy="136" r="1.85" fill="#0000ff"/>
<circle cx="326.6" cy="126.1" r="1.85" fill="#0000ff"/>
<circle cx="353.6" cy="116.5" r="1.85" fill="#0000ff"/>
<circle cx="380.6" cy="106.4" r="1.85" fill="#0000ff"/>
<circle cx="407.6" cy="95.4" r="1.85" fill="#0000ff"/>
<circle cx="434.6" cy="83.7" r="1.85" fill="#0000ff"/>
<path d="M272.6,130.2 L299.6,120.7 L326.6,111.3 L353.6,101.8 L380.6,92.7 L407.6,82.2 L434.6,72.5" fill="none" stroke="#ff0000" stroke-width="1.45"/>
<circle cx="272.6" cy="130.2" r="1.85" fill="#ff0000"/>
<circle cx="299.6" cy="120.7" r="1.85" fill="#ff0000"/>
<circle cx="326.6" cy="111.3" r="1.85" fill="#ff0000"/>
<circle cx="353.6" cy="101.8" r="1.85" fill="#ff0000"/>
<circle cx="380.6" cy="92.7" r="1.85" fill="#ff0000"/>
<circle cx="407.6" cy="82.2" r="1.85" fill="#ff0000"/>
<circle cx="434.6" cy="72.5" r="1.85" fill="#ff0000"/>
<path d="M272.6,61.2 L299.6,66.4 L326.6,67.1 L353.6,67.4 L380.6,68.9 L407.6,70.5 L434.6,74.6" fill="none" stroke="#ff00ff" stroke-width="1.45"/>
<circle cx="272.6" cy="61.2" r="1.85" fill="#ff00ff"/>
<circle cx="299.6" cy="66.4" r="1.85" fill="#ff00ff"/>
<circle cx="326.6" cy="67.1" r="1.85" fill="#ff00ff"/>
<circle cx="353.6" cy="67.4" r="1.85" fill="#ff00ff"/>
<circle cx="380.6" cy="68.9" r="1.85" fill="#ff00ff"/>
<circle cx="407.6" cy="70.5" r="1.85" fill="#ff00ff"/>
<circle cx="434.6" cy="74.6" r="1.85" fill="#ff00ff"/>
<text x="352.2" y="199.7" font-size="10.9" text-anchor="middle" font-weight="bold" fill="#000" >frequency [Hz]</text>
<text transform="translate(250.5,110.8) rotate(-90)" font-size="11.1" font-weight="bold" text-anchor="middle" fill="#000" xml:space="preserve">G', G''  [Pa]</text>
<text transform="translate(463.3,109.6) rotate(-90)" font-size="11" font-weight="bold" text-anchor="middle" fill="#000">delta [°]</text>
<line x1="27.5" y1="235.2" x2="27.5" y2="370.1" stroke="#e8e8e8" stroke-width="0.6"/>
<line x1="47.23" y1="235.2" x2="47.23" y2="370.1" stroke="#e8e8e8" stroke-width="0.6"/>
<line x1="66.97" y1="235.2" x2="66.97" y2="370.1" stroke="#e8e8e8" stroke-width="0.6"/>
<line x1="86.7" y1="235.2" x2="86.7" y2="370.1" stroke="#e8e8e8" stroke-width="0.6"/>
<line x1="106.44" y1="235.2" x2="106.44" y2="370.1" stroke="#e8e8e8" stroke-width="0.6"/>
<line x1="126.17" y1="235.2" x2="126.17" y2="370.1" stroke="#e8e8e8" stroke-width="0.6"/>
<line x1="145.91" y1="235.2" x2="145.91" y2="370.1" stroke="#e8e8e8" stroke-width="0.6"/>
<line x1="165.65" y1="235.2" x2="165.65" y2="370.1" stroke="#e8e8e8" stroke-width="0.6"/>
<line x1="185.38" y1="235.2" x2="185.38" y2="370.1" stroke="#e8e8e8" stroke-width="0.6"/>
<line x1="205.12" y1="235.2" x2="205.12" y2="370.1" stroke="#e8e8e8" stroke-width="0.6"/>
<line x1="27.5" y1="368.8" x2="205.1" y2="368.8" stroke="#f1f1f1" stroke-width="0.6"/>
<line x1="27.5" y1="358.96" x2="205.1" y2="358.96" stroke="#f1f1f1" stroke-width="0.6"/>
<line x1="27.5" y1="351.32" x2="205.1" y2="351.32" stroke="#f1f1f1" stroke-width="0.6"/>
<line x1="27.5" y1="345.08" x2="205.1" y2="345.08" stroke="#f1f1f1" stroke-width="0.6"/>
<line x1="27.5" y1="339.81" x2="205.1" y2="339.81" stroke="#f1f1f1" stroke-width="0.6"/>
<line x1="27.5" y1="335.24" x2="205.1" y2="335.24" stroke="#f1f1f1" stroke-width="0.6"/>
<line x1="27.5" y1="331.21" x2="205.1" y2="331.21" stroke="#f1f1f1" stroke-width="0.6"/>
<line x1="27.5" y1="303.88" x2="205.1" y2="303.88" stroke="#f1f1f1" stroke-width="0.6"/>
<line x1="27.5" y1="290" x2="205.1" y2="290" stroke="#f1f1f1" stroke-width="0.6"/>
<line x1="27.5" y1="280.16" x2="205.1" y2="280.16" stroke="#f1f1f1" stroke-width="0.6"/>
<line x1="27.5" y1="272.52" x2="205.1" y2="272.52" stroke="#f1f1f1" stroke-width="0.6"/>
<line x1="27.5" y1="266.28" x2="205.1" y2="266.28" stroke="#f1f1f1" stroke-width="0.6"/>
<line x1="27.5" y1="261.01" x2="205.1" y2="261.01" stroke="#f1f1f1" stroke-width="0.6"/>
<line x1="27.5" y1="256.44" x2="205.1" y2="256.44" stroke="#f1f1f1" stroke-width="0.6"/>
<line x1="27.5" y1="252.41" x2="205.1" y2="252.41" stroke="#f1f1f1" stroke-width="0.6"/>
<line x1="27.5" y1="327.6" x2="205.1" y2="327.6" stroke="#e8e8e8" stroke-width="0.6"/>
<line x1="27.5" y1="248.8" x2="205.1" y2="248.8" stroke="#e8e8e8" stroke-width="0.6"/>
<rect x="27.5" y="235.2" width="177.6" height="134.9" fill="none" stroke="#adadad" stroke-width="1.2"/>
<line x1="27.5" y1="368.1" x2="27.5" y2="370.1" stroke="#a0a0a0" stroke-width="0.6"/>
<line x1="27.5" y1="235.2" x2="27.5" y2="237.2" stroke="#a0a0a0" stroke-width="0.6"/>
<text x="27.5" y="379.3" font-size="5.6" text-anchor="middle" fill="#484848">0</text>
<line x1="47.23" y1="368.1" x2="47.23" y2="370.1" stroke="#a0a0a0" stroke-width="0.6"/>
<line x1="47.23" y1="235.2" x2="47.23" y2="237.2" stroke="#a0a0a0" stroke-width="0.6"/>
<text x="47.23" y="379.3" font-size="5.6" text-anchor="middle" fill="#484848">5</text>
<line x1="66.97" y1="368.1" x2="66.97" y2="370.1" stroke="#a0a0a0" stroke-width="0.6"/>
<line x1="66.97" y1="235.2" x2="66.97" y2="237.2" stroke="#a0a0a0" stroke-width="0.6"/>
<text x="66.97" y="379.3" font-size="5.6" text-anchor="middle" fill="#484848">10</text>
<line x1="86.7" y1="368.1" x2="86.7" y2="370.1" stroke="#a0a0a0" stroke-width="0.6"/>
<line x1="86.7" y1="235.2" x2="86.7" y2="237.2" stroke="#a0a0a0" stroke-width="0.6"/>
<text x="86.7" y="379.3" font-size="5.6" text-anchor="middle" fill="#484848">15</text>
<line x1="106.44" y1="368.1" x2="106.44" y2="370.1" stroke="#a0a0a0" stroke-width="0.6"/>
<line x1="106.44" y1="235.2" x2="106.44" y2="237.2" stroke="#a0a0a0" stroke-width="0.6"/>
<text x="106.44" y="379.3" font-size="5.6" text-anchor="middle" fill="#484848">20</text>
<line x1="126.17" y1="368.1" x2="126.17" y2="370.1" stroke="#a0a0a0" stroke-width="0.6"/>
<line x1="126.17" y1="235.2" x2="126.17" y2="237.2" stroke="#a0a0a0" stroke-width="0.6"/>
<text x="126.17" y="379.3" font-size="5.6" text-anchor="middle" fill="#484848">25</text>
<line x1="145.91" y1="368.1" x2="145.91" y2="370.1" stroke="#a0a0a0" stroke-width="0.6"/>
<line x1="145.91" y1="235.2" x2="145.91" y2="237.2" stroke="#a0a0a0" stroke-width="0.6"/>
<text x="145.91" y="379.3" font-size="5.6" text-anchor="middle" fill="#484848">30</text>
<line x1="165.65" y1="368.1" x2="165.65" y2="370.1" stroke="#a0a0a0" stroke-width="0.6"/>
<line x1="165.65" y1="235.2" x2="165.65" y2="237.2" stroke="#a0a0a0" stroke-width="0.6"/>
<text x="165.65" y="379.3" font-size="5.6" text-anchor="middle" fill="#484848">35</text>
<line x1="185.38" y1="368.1" x2="185.38" y2="370.1" stroke="#a0a0a0" stroke-width="0.6"/>
<line x1="185.38" y1="235.2" x2="185.38" y2="237.2" stroke="#a0a0a0" stroke-width="0.6"/>
<text x="185.38" y="379.3" font-size="5.6" text-anchor="middle" fill="#484848">40</text>
<line x1="205.12" y1="368.1" x2="205.12" y2="370.1" stroke="#a0a0a0" stroke-width="0.6"/>
<line x1="205.12" y1="235.2" x2="205.12" y2="237.2" stroke="#a0a0a0" stroke-width="0.6"/>
<text x="205.12" y="379.3" font-size="5.6" text-anchor="middle" fill="#484848">45</text>
<line x1="27.5" y1="327.6" x2="29.5" y2="327.6" stroke="#a0a0a0" stroke-width="0.6"/>
<line x1="203.1" y1="327.6" x2="205.1" y2="327.6" stroke="#a0a0a0" stroke-width="0.6"/>
<line x1="27.5" y1="248.8" x2="29.5" y2="248.8" stroke="#a0a0a0" stroke-width="0.6"/>
<line x1="203.1" y1="248.8" x2="205.1" y2="248.8" stroke="#a0a0a0" stroke-width="0.6"/>
<line x1="27.5" y1="368.8" x2="28.7" y2="368.8" stroke="#a0a0a0" stroke-width="0.6"/>
<line x1="203.9" y1="368.8" x2="205.1" y2="368.8" stroke="#a0a0a0" stroke-width="0.6"/>
<line x1="27.5" y1="358.96" x2="28.7" y2="358.96" stroke="#a0a0a0" stroke-width="0.6"/>
<line x1="203.9" y1="358.96" x2="205.1" y2="358.96" stroke="#a0a0a0" stroke-width="0.6"/>
<line x1="27.5" y1="351.32" x2="28.7" y2="351.32" stroke="#a0a0a0" stroke-width="0.6"/>
<line x1="203.9" y1="351.32" x2="205.1" y2="351.32" stroke="#a0a0a0" stroke-width="0.6"/>
<line x1="27.5" y1="345.08" x2="28.7" y2="345.08" stroke="#a0a0a0" stroke-width="0.6"/>
<line x1="203.9" y1="345.08" x2="205.1" y2="345.08" stroke="#a0a0a0" stroke-width="0.6"/>
<line x1="27.5" y1="339.81" x2="28.7" y2="339.81" stroke="#a0a0a0" stroke-width="0.6"/>
<line x1="203.9" y1="339.81" x2="205.1" y2="339.81" stroke="#a0a0a0" stroke-width="0.6"/>
<line x1="27.5" y1="335.24" x2="28.7" y2="335.24" stroke="#a0a0a0" stroke-width="0.6"/>
<line x1="203.9" y1="335.24" x2="205.1" y2="335.24" stroke="#a0a0a0" stroke-width="0.6"/>
<line x1="27.5" y1="331.21" x2="28.7" y2="331.21" stroke="#a0a0a0" stroke-width="0.6"/>
<line x1="203.9" y1="331.21" x2="205.1" y2="331.21" stroke="#a0a0a0" stroke-width="0.6"/>
<line x1="27.5" y1="303.88" x2="28.7" y2="303.88" stroke="#a0a0a0" stroke-width="0.6"/>
<line x1="203.9" y1="303.88" x2="205.1" y2="303.88" stroke="#a0a0a0" stroke-width="0.6"/>
<line x1="27.5" y1="290" x2="28.7" y2="290" stroke="#a0a0a0" stroke-width="0.6"/>
<line x1="203.9" y1="290" x2="205.1" y2="290" stroke="#a0a0a0" stroke-width="0.6"/>
<line x1="27.5" y1="280.16" x2="28.7" y2="280.16" stroke="#a0a0a0" stroke-width="0.6"/>
<line x1="203.9" y1="280.16" x2="205.1" y2="280.16" stroke="#a0a0a0" stroke-width="0.6"/>
<line x1="27.5" y1="272.52" x2="28.7" y2="272.52" stroke="#a0a0a0" stroke-width="0.6"/>
<line x1="203.9" y1="272.52" x2="205.1" y2="272.52" stroke="#a0a0a0" stroke-width="0.6"/>
<line x1="27.5" y1="266.28" x2="28.7" y2="266.28" stroke="#a0a0a0" stroke-width="0.6"/>
<line x1="203.9" y1="266.28" x2="205.1" y2="266.28" stroke="#a0a0a0" stroke-width="0.6"/>
<line x1="27.5" y1="261.01" x2="28.7" y2="261.01" stroke="#a0a0a0" stroke-width="0.6"/>
<line x1="203.9" y1="261.01" x2="205.1" y2="261.01" stroke="#a0a0a0" stroke-width="0.6"/>
<line x1="27.5" y1="256.44" x2="28.7" y2="256.44" stroke="#a0a0a0" stroke-width="0.6"/>
<line x1="203.9" y1="256.44" x2="205.1" y2="256.44" stroke="#a0a0a0" stroke-width="0.6"/>
<line x1="27.5" y1="252.41" x2="28.7" y2="252.41" stroke="#a0a0a0" stroke-width="0.6"/>
<line x1="203.9" y1="252.41" x2="205.1" y2="252.41" stroke="#a0a0a0" stroke-width="0.6"/>
<text x="16.85" y="330.4" font-size="5.5" fill="#484848">10</text>
<text x="23.26" y="327.5" font-size="4.2" fill="#484848">2</text>
<text x="16.85" y="251.6" font-size="5.5" fill="#484848">10</text>
<text x="23.26" y="248.7" font-size="4.2" fill="#484848">3</text>
<path d="M43,289.9 L43.75,290.08 L44.5,290.27 L45.25,290.46 L46,290.64 L46.75,290.83 L47.5,291.01 L48.25,291.2 L49,291.39 L49.75,291.57 L50.5,291.76 L51.25,291.95 L52,292.14 L52.75,292.33 L53.5,292.52 L54.25,292.71 L55,292.9 L55.75,293.09 L56.5,293.28 L57.25,293.47 L58,293.66 L58.75,293.85 L59.5,294.04 L60.25,294.23 L61,294.43 L61.75,294.62 L62.5,294.81 L63.25,295 L64,295.2 L64.75,295.39 L65.5,295.59 L66.25,295.78 L67,295.98 L67.75,296.17 L68.5,296.37 L69.25,296.56 L70,296.76 L70.75,296.96 L71.5,297.15 L72.25,297.35 L73,297.55 L73.75,297.75 L74.5,297.94 L75.25,298.14 L76,298.34 L76.75,298.54 L77.5,298.74 L78.25,298.94 L79,299.14 L79.75,299.34 L80.5,299.54 L81.25,299.74 L82,299.94 L82.75,300.15 L83.5,300.35 L84.25,300.55 L85,300.75 L85.75,300.96 L86.5,301.16 L87.25,301.36 L88,301.57 L88.75,301.77 L89.5,301.98 L90.25,302.18 L91,302.39 L91.75,302.6 L92.5,302.8 L93.25,303.01 L94,303.21 L94.75,303.42 L95.5,303.63 L96.25,303.85 L97,304.1 L97.75,304.35 L98.5,304.61 L99.25,304.86 L100,305.11 L100.75,305.36 L101.5,305.62 L102.25,305.87 L103,306.13 L103.75,306.38 L104.5,306.63 L105.25,306.89 L106,307.15 L106.75,307.4 L107.5,307.66 L108.25,307.92 L109,308.17 L109.75,308.43 L110.5,308.69 L111.25,308.95 L112,309.21 L112.75,309.47 L113.5,309.73 L114.25,309.99 L115,310.25 L115.75,310.51 L116.5,310.78 L117.25,311.04 L118,311.31 L118.75,311.57 L119.5,311.84 L120.25,312.11 L121,312.37 L121.75,312.64 L122.5,312.91 L123.25,313.19 L124,313.46 L124.75,313.74 L125.5,314.01 L126.25,314.29 L127,314.57 L127.75,314.86 L128.5,315.14 L129.25,315.43 L130,315.73 L130.75,316.02 L131.5,316.37 L132.25,316.75 L133,317.13 L133.75,317.52 L134.5,317.92 L135.25,318.32 L136,318.73 L136.75,319.14 L137.5,319.56 L138.25,319.99 L139,320.43 L139.75,320.89 L140.5,321.35 L141.25,321.82 L142,322.31 L142.75,322.82 L143.5,323.34 L144.25,323.88 L145,324.43 L145.75,325.01 L146.5,325.61 L147.25,326.23 L148,326.88 L148.75,327.58 L149.5,328.32 L150.25,329.07 L151,329.86 L151.75,330.68 L152.5,331.53 L153.25,332.4 L154,333.31 L154.75,334.25 L155.5,335.21 L156.25,336.2 L157,337.21 L157.75,338.08 L158.5,338.97 L159.25,339.88 L160,340.79 L160.75,341.71 L161.5,342.63 L162.25,343.55 L163,344.47 L163.75,345.37 L164.5,346.26 L165.25,347.13 L166,347.98 L166.75,348.8 L167.5,349.6 L168.25,350.38 L169,351.12 L169.75,351.84 L170.5,352.53 L171.25,353.19 L172,353.82 L172.75,354.42 L173.5,354.99 L174.25,355.54 L175,356.07 L175.75,356.57 L176.5,357.04 L177.25,357.5 L178,357.94 L178.75,358.36 L179.5,358.76 L180.25,359.15 L181,359.53 L181.75,359.89 L182.5,360.24 L183.25,360.58 L184,360.91 L184.75,361.23 L185.3,361.47 L185.3,369.46 L184.75,369.22 L184,368.89 L183.25,368.55 L182.5,368.21 L181.75,367.85 L181,367.48 L180.25,367.09 L179.5,366.7 L178.75,366.29 L178,365.86 L177.25,365.41 L176.5,364.95 L175.75,364.46 L175,363.95 L174.25,363.42 L173.5,362.86 L172.75,362.28 L172,361.67 L171.25,361.03 L170.5,360.37 L169.75,359.69 L169,359.01 L168.25,358.3 L167.5,357.57 L166.75,356.8 L166,356.02 L165.25,355.21 L164.5,354.37 L163.75,353.52 L163,352.66 L162.25,351.78 L161.5,350.9 L160.75,350.02 L160,349.14 L159.25,348.26 L158.5,347.39 L157.75,346.54 L157,345.71 L156.25,345.32 L155.5,344.96 L154.75,344.62 L154,344.31 L153.25,344.03 L152.5,343.78 L151.75,343.55 L151,343.36 L150.25,343.2 L149.5,343.07 L148.75,342.96 L148,342.88 L147.25,342.43 L146.5,342 L145.75,341.59 L145,341.21 L144.25,340.85 L143.5,340.5 L142.75,340.18 L142,339.87 L141.25,339.57 L140.5,339.29 L139.75,339.02 L139,338.76 L138.25,338.52 L137.5,338.28 L136.75,338.05 L136,337.83 L135.25,337.62 L134.5,337.41 L133.75,337.21 L133,337.02 L132.25,336.83 L131.5,336.64 L130.75,336.43 L130,336.18 L129.25,335.92 L128.5,335.67 L127.75,335.43 L127,335.18 L126.25,334.94 L125.5,334.7 L124.75,334.46 L124,334.22 L123.25,333.99 L122.5,333.75 L121.75,333.52 L121,333.29 L120.25,333.06 L119.5,332.83 L118.75,332.6 L118,332.37 L117.25,332.15 L116.5,331.92 L115.75,331.7 L115,331.47 L114.25,331.25 L113.5,331.03 L112.75,330.81 L112,330.58 L111.25,330.36 L110.5,330.14 L109.75,329.92 L109,329.7 L108.25,329.49 L107.5,329.27 L106.75,329.05 L106,328.83 L105.25,328.61 L104.5,328.4 L103.75,328.18 L103,327.97 L102.25,327.75 L101.5,327.53 L100.75,327.32 L100,327.11 L99.25,326.89 L98.5,326.68 L97.75,326.46 L97,326.25 L96.25,326.04 L95.5,325.86 L94.75,325.69 L94,325.52 L93.25,325.35 L92.5,325.19 L91.75,325.02 L91,324.85 L90.25,324.69 L89.5,324.52 L88.75,324.36 L88,324.19 L87.25,324.03 L86.5,323.86 L85.75,323.7 L85,323.54 L84.25,323.37 L83.5,323.21 L82.75,323.05 L82,322.88 L81.25,322.72 L80.5,322.56 L79.75,322.4 L79,322.24 L78.25,322.08 L77.5,321.92 L76.75,321.76 L76,321.6 L75.25,321.44 L74.5,321.28 L73.75,321.12 L73,320.96 L72.25,320.8 L71.5,320.65 L70.75,320.49 L70,320.33 L69.25,320.18 L68.5,320.02 L67.75,319.86 L67,319.71 L66.25,319.55 L65.5,319.4 L64.75,319.24 L64,319.09 L63.25,318.93 L62.5,318.78 L61.75,318.63 L61,318.47 L60.25,318.32 L59.5,318.17 L58.75,318.02 L58,317.87 L57.25,317.71 L56.5,317.56 L55.75,317.41 L55,317.26 L54.25,317.11 L53.5,316.96 L52.75,316.81 L52,316.66 L51.25,316.51 L50.5,316.37 L49.75,316.22 L49,316.07 L48.25,315.92 L47.5,315.78 L46.75,315.63 L46,315.48 L45.25,315.34 L44.5,315.19 L43.75,315.05 L43,314.9 Z" fill="#0000ff" fill-opacity="0.2" stroke="none"/>
<path d="M43,275.89 L43.75,276.08 L44.5,276.28 L45.25,276.48 L46,276.67 L46.75,276.87 L47.5,277.07 L48.25,277.27 L49,277.47 L49.75,277.67 L50.5,277.87 L51.25,278.07 L52,278.27 L52.75,278.48 L53.5,278.68 L54.25,278.88 L55,279.09 L55.75,279.29 L56.5,279.5 L57.25,279.71 L58,279.91 L58.75,280.12 L59.5,280.33 L60.25,280.54 L61,280.75 L61.75,280.96 L62.5,281.17 L63.25,281.38 L64,281.6 L64.75,281.81 L65.5,282.03 L66.25,282.24 L67,282.46 L67.75,282.67 L68.5,282.89 L69.25,283.11 L70,283.32 L70.75,283.54 L71.5,283.76 L72.25,283.98 L73,284.2 L73.75,284.42 L74.5,284.65 L75.25,284.87 L76,285.09 L76.75,285.31 L77.5,285.54 L78.25,285.76 L79,285.99 L79.75,286.22 L80.5,286.44 L81.25,286.67 L82,286.9 L82.75,287.13 L83.5,287.36 L84.25,287.59 L85,287.82 L85.75,288.05 L86.5,288.29 L87.25,288.52 L88,288.75 L88.75,288.99 L89.5,289.22 L90.25,289.46 L91,289.69 L91.75,289.93 L92.5,290.17 L93.25,290.41 L94,290.65 L94.75,290.89 L95.5,291.13 L96.25,291.37 L97,291.62 L97.75,291.86 L98.5,292.11 L99.25,292.36 L100,292.61 L100.75,292.86 L101.5,293.11 L102.25,293.36 L103,293.61 L103.75,293.86 L104.5,294.11 L105.25,294.37 L106,294.62 L106.75,294.87 L107.5,295.13 L108.25,295.39 L109,295.64 L109.75,295.9 L110.5,296.16 L111.25,296.42 L112,296.68 L112.75,296.94 L113.5,297.2 L114.25,297.46 L115,297.72 L115.75,297.98 L116.5,298.25 L117.25,298.51 L118,298.78 L118.75,299.04 L119.5,299.31 L120.25,299.58 L121,299.84 L121.75,300.11 L122.5,300.38 L123.25,300.65 L124,300.93 L124.75,301.2 L125.5,301.47 L126.25,301.75 L127,302.02 L127.75,302.3 L128.5,302.58 L129.25,302.86 L130,303.14 L130.75,303.42 L131.5,303.7 L132.25,303.97 L133,304.24 L133.75,304.52 L134.5,304.8 L135.25,305.08 L136,305.37 L136.75,305.66 L137.5,305.96 L138.25,306.27 L139,306.58 L139.75,306.9 L140.5,307.23 L141.25,307.57 L142,307.93 L142.75,308.3 L143.5,308.69 L144.25,309.1 L145,309.53 L145.75,309.99 L146.5,310.48 L147.25,311 L148,311.56 L148.75,312.22 L149.5,312.92 L150.25,313.67 L151,314.47 L151.75,315.33 L152.5,316.25 L153.25,317.22 L154,318.24 L154.75,319.32 L155.5,320.45 L156.25,321.62 L157,322.82 L157.75,323.98 L158.5,325.15 L159.25,326.32 L160,327.48 L160.75,328.62 L161.5,329.72 L162.25,330.77 L163,331.78 L163.75,332.74 L164.5,333.64 L165.25,334.49 L166,335.28 L166.75,336.02 L167.5,336.71 L168.25,337.36 L169,337.96 L169.75,338.52 L170.5,339.05 L171.25,339.54 L172,340.01 L172.75,340.46 L173.5,340.88 L174.25,341.29 L175,341.68 L175.75,342.06 L176.5,342.42 L177.25,342.78 L178,343.13 L178.75,343.47 L179.5,343.8 L180.25,344.13 L181,344.46 L181.75,344.78 L182.5,345.1 L183.25,345.41 L184,345.73 L184.75,346.04 L185.3,346.27 L185.3,354.76 L184.75,354.52 L184,354.2 L183.25,353.87 L182.5,353.55 L181.75,353.22 L181,352.89 L180.25,352.55 L179.5,352.21 L178.75,351.87 L178,351.52 L177.25,351.16 L176.5,350.79 L175.75,350.42 L175,350.03 L174.25,349.63 L173.5,349.21 L172.75,348.78 L172,348.32 L171.25,347.84 L170.5,347.33 L169.75,346.8 L169,346.22 L168.25,345.61 L167.5,344.96 L166.75,344.26 L166,343.51 L165.25,342.71 L164.5,341.85 L163.75,340.93 L163,339.97 L162.25,338.95 L161.5,337.88 L160.75,336.77 L160,335.62 L159.25,334.46 L158.5,333.27 L157.75,332.09 L157,330.92 L156.25,329.8 L155.5,328.7 L154.75,327.65 L154,326.64 L153.25,325.69 L152.5,324.8 L151.75,323.96 L151,323.17 L150.25,322.44 L149.5,321.77 L148.75,321.14 L148,320.56 L147.25,320.07 L146.5,319.63 L145.75,319.22 L145,318.83 L144.25,318.47 L143.5,318.14 L142.75,317.83 L142,317.53 L141.25,317.25 L140.5,316.98 L139.75,316.72 L139,316.48 L138.25,316.24 L137.5,316.01 L136.75,315.79 L136,315.57 L135.25,315.36 L134.5,315.15 L133.75,314.94 L133,314.74 L132.25,314.54 L131.5,314.35 L130.75,314.13 L130,313.86 L129.25,313.6 L128.5,313.33 L127.75,313.07 L127,312.81 L126.25,312.55 L125.5,312.3 L124.75,312.04 L124,311.79 L123.25,311.53 L122.5,311.28 L121.75,311.02 L121,310.77 L120.25,310.52 L119.5,310.27 L118.75,310.02 L118,309.77 L117.25,309.53 L116.5,309.28 L115.75,309.03 L115,308.79 L114.25,308.54 L113.5,308.3 L112.75,308.05 L112,307.81 L111.25,307.57 L110.5,307.33 L109.75,307.09 L109,306.85 L108.25,306.61 L107.5,306.37 L106.75,306.13 L106,305.89 L105.25,305.65 L104.5,305.42 L103.75,305.18 L103,304.95 L102.25,304.71 L101.5,304.48 L100.75,304.25 L100,304.01 L99.25,303.78 L98.5,303.55 L97.75,303.32 L97,303.09 L96.25,302.86 L95.5,302.65 L94.75,302.44 L94,302.23 L93.25,302.02 L92.5,301.81 L91.75,301.6 L91,301.39 L90.25,301.19 L89.5,300.98 L88.75,300.77 L88,300.57 L87.25,300.37 L86.5,300.16 L85.75,299.96 L85,299.76 L84.25,299.56 L83.5,299.36 L82.75,299.15 L82,298.96 L81.25,298.76 L80.5,298.56 L79.75,298.36 L79,298.16 L78.25,297.97 L77.5,297.77 L76.75,297.58 L76,297.38 L75.25,297.19 L74.5,297 L73.75,296.8 L73,296.61 L72.25,296.42 L71.5,296.23 L70.75,296.04 L70,295.85 L69.25,295.67 L68.5,295.48 L67.75,295.29 L67,295.1 L66.25,294.92 L65.5,294.73 L64.75,294.55 L64,294.37 L63.25,294.18 L62.5,294 L61.75,293.82 L61,293.64 L60.25,293.46 L59.5,293.28 L58.75,293.1 L58,292.92 L57.25,292.74 L56.5,292.57 L55.75,292.39 L55,292.21 L54.25,292.04 L53.5,291.86 L52.75,291.69 L52,291.52 L51.25,291.34 L50.5,291.17 L49.75,291 L49,290.83 L48.25,290.66 L47.5,290.49 L46.75,290.32 L46,290.15 L45.25,289.99 L44.5,289.82 L43.75,289.66 L43,289.49 Z" fill="#ff0000" fill-opacity="0.18" stroke="none"/>
<path d="M43,299.9 L43.75,300.08 L44.5,300.27 L45.25,300.46 L46,300.64 L46.75,300.83 L47.5,301.01 L48.25,301.2 L49,301.39 L49.75,301.57 L50.5,301.76 L51.25,301.95 L52,302.14 L52.75,302.33 L53.5,302.52 L54.25,302.71 L55,302.9 L55.75,303.09 L56.5,303.28 L57.25,303.47 L58,303.66 L58.75,303.85 L59.5,304.04 L60.25,304.23 L61,304.43 L61.75,304.62 L62.5,304.81 L63.25,305 L64,305.2 L64.75,305.39 L65.5,305.59 L66.25,305.78 L67,305.98 L67.75,306.17 L68.5,306.37 L69.25,306.56 L70,306.76 L70.75,306.96 L71.5,307.15 L72.25,307.35 L73,307.55 L73.75,307.75 L74.5,307.94 L75.25,308.14 L76,308.34 L76.75,308.54 L77.5,308.74 L78.25,308.94 L79,309.14 L79.75,309.34 L80.5,309.54 L81.25,309.74 L82,309.94 L82.75,310.15 L83.5,310.35 L84.25,310.55 L85,310.75 L85.75,310.96 L86.5,311.16 L87.25,311.36 L88,311.57 L88.75,311.77 L89.5,311.98 L90.25,312.18 L91,312.39 L91.75,312.6 L92.5,312.8 L93.25,313.01 L94,313.21 L94.75,313.42 L95.5,313.63 L96.25,313.84 L97,314.05 L97.75,314.25 L98.5,314.46 L99.25,314.67 L100,314.88 L100.75,315.09 L101.5,315.3 L102.25,315.51 L103,315.73 L103.75,315.94 L104.5,316.15 L105.25,316.36 L106,316.57 L106.75,316.79 L107.5,317 L108.25,317.22 L109,317.43 L109.75,317.65 L110.5,317.86 L111.25,318.08 L112,318.29 L112.75,318.51 L113.5,318.73 L114.25,318.95 L115,319.17 L115.75,319.39 L116.5,319.61 L117.25,319.83 L118,320.05 L118.75,320.27 L119.5,320.49 L120.25,320.72 L121,320.95 L121.75,321.17 L122.5,321.4 L123.25,321.63 L124,321.86 L124.75,322.09 L125.5,322.33 L126.25,322.56 L127,322.8 L127.75,323.04 L128.5,323.29 L129.25,323.53 L130,323.78 L130.75,324.04 L131.5,324.29 L132.25,324.55 L133,324.82 L133.75,325.09 L134.5,325.36 L135.25,325.64 L136,325.93 L136.75,326.23 L137.5,326.53 L138.25,326.84 L139,327.16 L139.75,327.5 L140.5,327.84 L141.25,328.2 L142,328.57 L142.75,328.95 L143.5,329.35 L144.25,329.77 L145,330.21 L145.75,330.67 L146.5,331.15 L147.25,331.65 L148,332.18 L148.75,332.73 L149.5,333.32 L150.25,333.92 L151,334.56 L151.75,335.23 L152.5,335.93 L153.25,336.65 L154,337.41 L154.75,338.2 L155.5,339.01 L156.25,339.85 L157,340.71 L157.75,341.59 L158.5,342.49 L159.25,343.4 L160,344.32 L160.75,345.25 L161.5,346.18 L162.25,347.11 L163,348.03 L163.75,348.94 L164.5,349.83 L165.25,350.71 L166,351.57 L166.75,352.4 L167.5,353.21 L168.25,353.99 L169,354.75 L169.75,355.47 L170.5,356.17 L171.25,356.83 L172,357.47 L172.75,358.08 L173.5,358.66 L174.25,359.22 L175,359.75 L175.75,360.26 L176.5,360.75 L177.25,361.21 L178,361.66 L178.75,362.09 L179.5,362.5 L180.25,362.89 L181,363.28 L181.75,363.65 L182.5,364.01 L183.25,364.35 L184,364.69 L184.75,365.02 L185.3,365.26" fill="none" stroke="#fff" stroke-opacity="0.75" stroke-width="6.4" stroke-linecap="butt"/>
<path d="M43,299.9 L43.75,300.08 L44.5,300.27 L45.25,300.46 L46,300.64 L46.75,300.83 L47.5,301.01 L48.25,301.2 L49,301.39 L49.75,301.57 L50.5,301.76 L51.25,301.95 L52,302.14 L52.75,302.33 L53.5,302.52 L54.25,302.71 L55,302.9 L55.75,303.09 L56.5,303.28 L57.25,303.47 L58,303.66 L58.75,303.85 L59.5,304.04 L60.25,304.23 L61,304.43 L61.75,304.62 L62.5,304.81 L63.25,305 L64,305.2 L64.75,305.39 L65.5,305.59 L66.25,305.78 L67,305.98 L67.75,306.17 L68.5,306.37 L69.25,306.56 L70,306.76 L70.75,306.96 L71.5,307.15 L72.25,307.35 L73,307.55 L73.75,307.75 L74.5,307.94 L75.25,308.14 L76,308.34 L76.75,308.54 L77.5,308.74 L78.25,308.94 L79,309.14 L79.75,309.34 L80.5,309.54 L81.25,309.74 L82,309.94 L82.75,310.15 L83.5,310.35 L84.25,310.55 L85,310.75 L85.75,310.96 L86.5,311.16 L87.25,311.36 L88,311.57 L88.75,311.77 L89.5,311.98 L90.25,312.18 L91,312.39 L91.75,312.6 L92.5,312.8 L93.25,313.01 L94,313.21 L94.75,313.42 L95.5,313.63 L96.25,313.84 L97,314.05 L97.75,314.25 L98.5,314.46 L99.25,314.67 L100,314.88 L100.75,315.09 L101.5,315.3 L102.25,315.51 L103,315.73 L103.75,315.94 L104.5,316.15 L105.25,316.36 L106,316.57 L106.75,316.79 L107.5,317 L108.25,317.22 L109,317.43 L109.75,317.65 L110.5,317.86 L111.25,318.08 L112,318.29 L112.75,318.51 L113.5,318.73 L114.25,318.95 L115,319.17 L115.75,319.39 L116.5,319.61 L117.25,319.83 L118,320.05 L118.75,320.27 L119.5,320.49 L120.25,320.72 L121,320.95 L121.75,321.17 L122.5,321.4 L123.25,321.63 L124,321.86 L124.75,322.09 L125.5,322.33 L126.25,322.56 L127,322.8 L127.75,323.04 L128.5,323.29 L129.25,323.53 L130,323.78 L130.75,324.04 L131.5,324.29 L132.25,324.55 L133,324.82 L133.75,325.09 L134.5,325.36 L135.25,325.64 L136,325.93 L136.75,326.23 L137.5,326.53 L138.25,326.84 L139,327.16 L139.75,327.5 L140.5,327.84 L141.25,328.2 L142,328.57 L142.75,328.95 L143.5,329.35 L144.25,329.77 L145,330.21 L145.75,330.67 L146.5,331.15 L147.25,331.65 L148,332.18 L148.75,332.73 L149.5,333.32 L150.25,333.92 L151,334.56 L151.75,335.23 L152.5,335.93 L153.25,336.65 L154,337.41 L154.75,338.2 L155.5,339.01 L156.25,339.85 L157,340.71 L157.75,341.59 L158.5,342.49 L159.25,343.4 L160,344.32 L160.75,345.25 L161.5,346.18 L162.25,347.11 L163,348.03 L163.75,348.94 L164.5,349.83 L165.25,350.71 L166,351.57 L166.75,352.4 L167.5,353.21 L168.25,353.99 L169,354.75 L169.75,355.47 L170.5,356.17 L171.25,356.83 L172,357.47 L172.75,358.08 L173.5,358.66 L174.25,359.22 L175,359.75 L175.75,360.26 L176.5,360.75 L177.25,361.21 L178,361.66 L178.75,362.09 L179.5,362.5 L180.25,362.89 L181,363.28 L181.75,363.65 L182.5,364.01 L183.25,364.35 L184,364.69 L184.75,365.02 L185.3,365.26" fill="none" stroke="#0000ff" stroke-width="3.7" stroke-linecap="round"/>
<path d="M43,282.09 L43.75,282.27 L44.5,282.46 L45.25,282.64 L46,282.82 L46.75,283.01 L47.5,283.19 L48.25,283.38 L49,283.57 L49.75,283.75 L50.5,283.94 L51.25,284.13 L52,284.32 L52.75,284.51 L53.5,284.7 L54.25,284.89 L55,285.08 L55.75,285.28 L56.5,285.47 L57.25,285.66 L58,285.86 L58.75,286.05 L59.5,286.25 L60.25,286.45 L61,286.65 L61.75,286.84 L62.5,287.04 L63.25,287.24 L64,287.44 L64.75,287.64 L65.5,287.84 L66.25,288.05 L67,288.25 L67.75,288.45 L68.5,288.65 L69.25,288.86 L70,289.06 L70.75,289.27 L71.5,289.48 L72.25,289.68 L73,289.89 L73.75,290.1 L74.5,290.31 L75.25,290.52 L76,290.73 L76.75,290.94 L77.5,291.15 L78.25,291.37 L79,291.58 L79.75,291.79 L80.5,292.01 L81.25,292.22 L82,292.44 L82.75,292.65 L83.5,292.87 L84.25,293.09 L85,293.31 L85.75,293.53 L86.5,293.75 L87.25,293.97 L88,294.19 L88.75,294.41 L89.5,294.63 L90.25,294.86 L91,295.08 L91.75,295.3 L92.5,295.53 L93.25,295.75 L94,295.98 L94.75,296.21 L95.5,296.44 L96.25,296.66 L97,296.89 L97.75,297.12 L98.5,297.35 L99.25,297.58 L100,297.81 L100.75,298.05 L101.5,298.28 L102.25,298.51 L103,298.75 L103.75,298.98 L104.5,299.22 L105.25,299.45 L106,299.69 L106.75,299.93 L107.5,300.17 L108.25,300.41 L109,300.65 L109.75,300.89 L110.5,301.13 L111.25,301.37 L112,301.61 L112.75,301.85 L113.5,302.1 L114.25,302.34 L115,302.59 L115.75,302.83 L116.5,303.08 L117.25,303.33 L118,303.57 L118.75,303.82 L119.5,304.07 L120.25,304.32 L121,304.57 L121.75,304.82 L122.5,305.08 L123.25,305.33 L124,305.59 L124.75,305.84 L125.5,306.1 L126.25,306.35 L127,306.61 L127.75,306.87 L128.5,307.13 L129.25,307.4 L130,307.66 L130.75,307.93 L131.5,308.2 L132.25,308.47 L133,308.74 L133.75,309.02 L134.5,309.3 L135.25,309.58 L136,309.87 L136.75,310.16 L137.5,310.46 L138.25,310.77 L139,311.08 L139.75,311.4 L140.5,311.73 L141.25,312.07 L142,312.43 L142.75,312.8 L143.5,313.19 L144.25,313.6 L145,314.03 L145.75,314.49 L146.5,314.98 L147.25,315.5 L148,316.06 L148.75,316.66 L149.5,317.3 L150.25,317.99 L151,318.74 L151.75,319.54 L152.5,320.4 L153.25,321.31 L154,322.28 L154.75,323.3 L155.5,324.37 L156.25,325.48 L157,326.62 L157.75,327.79 L158.5,328.96 L159.25,330.14 L160,331.3 L160.75,332.44 L161.5,333.55 L162.25,334.61 L163,335.63 L163.75,336.59 L164.5,337.5 L165.25,338.35 L166,339.15 L166.75,339.89 L167.5,340.59 L168.25,341.24 L169,341.84 L169.75,342.41 L170.5,342.94 L171.25,343.44 L172,343.92 L172.75,344.37 L173.5,344.8 L174.25,345.21 L175,345.6 L175.75,345.99 L176.5,346.36 L177.25,346.72 L178,347.07 L178.75,347.42 L179.5,347.76 L180.25,348.09 L181,348.42 L181.75,348.75 L182.5,349.07 L183.25,349.39 L184,349.71 L184.75,350.03 L185.3,350.26" fill="none" stroke="#fff" stroke-opacity="0.75" stroke-width="6.2" stroke-linecap="butt"/>
<path d="M43,282.09 L43.75,282.27 L44.5,282.46 L45.25,282.64 L46,282.82 L46.75,283.01 L47.5,283.19 L48.25,283.38 L49,283.57 L49.75,283.75 L50.5,283.94 L51.25,284.13 L52,284.32 L52.75,284.51 L53.5,284.7 L54.25,284.89 L55,285.08 L55.75,285.28 L56.5,285.47 L57.25,285.66 L58,285.86 L58.75,286.05 L59.5,286.25 L60.25,286.45 L61,286.65 L61.75,286.84 L62.5,287.04 L63.25,287.24 L64,287.44 L64.75,287.64 L65.5,287.84 L66.25,288.05 L67,288.25 L67.75,288.45 L68.5,288.65 L69.25,288.86 L70,289.06 L70.75,289.27 L71.5,289.48 L72.25,289.68 L73,289.89 L73.75,290.1 L74.5,290.31 L75.25,290.52 L76,290.73 L76.75,290.94 L77.5,291.15 L78.25,291.37 L79,291.58 L79.75,291.79 L80.5,292.01 L81.25,292.22 L82,292.44 L82.75,292.65 L83.5,292.87 L84.25,293.09 L85,293.31 L85.75,293.53 L86.5,293.75 L87.25,293.97 L88,294.19 L88.75,294.41 L89.5,294.63 L90.25,294.86 L91,295.08 L91.75,295.3 L92.5,295.53 L93.25,295.75 L94,295.98 L94.75,296.21 L95.5,296.44 L96.25,296.66 L97,296.89 L97.75,297.12 L98.5,297.35 L99.25,297.58 L100,297.81 L100.75,298.05 L101.5,298.28 L102.25,298.51 L103,298.75 L103.75,298.98 L104.5,299.22 L105.25,299.45 L106,299.69 L106.75,299.93 L107.5,300.17 L108.25,300.41 L109,300.65 L109.75,300.89 L110.5,301.13 L111.25,301.37 L112,301.61 L112.75,301.85 L113.5,302.1 L114.25,302.34 L115,302.59 L115.75,302.83 L116.5,303.08 L117.25,303.33 L118,303.57 L118.75,303.82 L119.5,304.07 L120.25,304.32 L121,304.57 L121.75,304.82 L122.5,305.08 L123.25,305.33 L124,305.59 L124.75,305.84 L125.5,306.1 L126.25,306.35 L127,306.61 L127.75,306.87 L128.5,307.13 L129.25,307.4 L130,307.66 L130.75,307.93 L131.5,308.2 L132.25,308.47 L133,308.74 L133.75,309.02 L134.5,309.3 L135.25,309.58 L136,309.87 L136.75,310.16 L137.5,310.46 L138.25,310.77 L139,311.08 L139.75,311.4 L140.5,311.73 L141.25,312.07 L142,312.43 L142.75,312.8 L143.5,313.19 L144.25,313.6 L145,314.03 L145.75,314.49 L146.5,314.98 L147.25,315.5 L148,316.06 L148.75,316.66 L149.5,317.3 L150.25,317.99 L151,318.74 L151.75,319.54 L152.5,320.4 L153.25,321.31 L154,322.28 L154.75,323.3 L155.5,324.37 L156.25,325.48 L157,326.62 L157.75,327.79 L158.5,328.96 L159.25,330.14 L160,331.3 L160.75,332.44 L161.5,333.55 L162.25,334.61 L163,335.63 L163.75,336.59 L164.5,337.5 L165.25,338.35 L166,339.15 L166.75,339.89 L167.5,340.59 L168.25,341.24 L169,341.84 L169.75,342.41 L170.5,342.94 L171.25,343.44 L172,343.92 L172.75,344.37 L173.5,344.8 L174.25,345.21 L175,345.6 L175.75,345.99 L176.5,346.36 L177.25,346.72 L178,347.07 L178.75,347.42 L179.5,347.76 L180.25,348.09 L181,348.42 L181.75,348.75 L182.5,349.07 L183.25,349.39 L184,349.71 L184.75,350.03 L185.3,350.26" fill="none" stroke="#ff0000" stroke-width="3.5" stroke-linecap="round"/>
<text x="135.1" y="268" font-size="8.6" text-anchor="start" font-weight="bold" fill="#000" >Liquid-like</text>
<text x="116.4" y="392.4" font-size="11" text-anchor="middle" font-weight="bold" fill="#000" >T [°C]</text>
<text transform="translate(13.2,300.9) rotate(-90)" font-size="11.1" font-weight="bold" text-anchor="middle" fill="#000" xml:space="preserve">G', G''  [Pa]</text>
<line x1="263.7" y1="234.9" x2="263.7" y2="370.4" stroke="#e8e8e8" stroke-width="0.6"/>
<line x1="292.52" y1="234.9" x2="292.52" y2="370.4" stroke="#e8e8e8" stroke-width="0.6"/>
<line x1="321.35" y1="234.9" x2="321.35" y2="370.4" stroke="#e8e8e8" stroke-width="0.6"/>
<line x1="350.18" y1="234.9" x2="350.18" y2="370.4" stroke="#e8e8e8" stroke-width="0.6"/>
<line x1="379" y1="234.9" x2="379" y2="370.4" stroke="#e8e8e8" stroke-width="0.6"/>
<line x1="407.82" y1="234.9" x2="407.82" y2="370.4" stroke="#e8e8e8" stroke-width="0.6"/>
<line x1="436.65" y1="234.9" x2="436.65" y2="370.4" stroke="#e8e8e8" stroke-width="0.6"/>
<line x1="263.7" y1="350.01" x2="442" y2="350.01" stroke="#f1f1f1" stroke-width="0.6"/>
<line x1="263.7" y1="338.08" x2="442" y2="338.08" stroke="#f1f1f1" stroke-width="0.6"/>
<line x1="263.7" y1="329.61" x2="442" y2="329.61" stroke="#f1f1f1" stroke-width="0.6"/>
<line x1="263.7" y1="323.04" x2="442" y2="323.04" stroke="#f1f1f1" stroke-width="0.6"/>
<line x1="263.7" y1="317.68" x2="442" y2="317.68" stroke="#f1f1f1" stroke-width="0.6"/>
<line x1="263.7" y1="313.14" x2="442" y2="313.14" stroke="#f1f1f1" stroke-width="0.6"/>
<line x1="263.7" y1="309.22" x2="442" y2="309.22" stroke="#f1f1f1" stroke-width="0.6"/>
<line x1="263.7" y1="305.75" x2="442" y2="305.75" stroke="#f1f1f1" stroke-width="0.6"/>
<line x1="263.7" y1="282.26" x2="442" y2="282.26" stroke="#f1f1f1" stroke-width="0.6"/>
<line x1="263.7" y1="270.33" x2="442" y2="270.33" stroke="#f1f1f1" stroke-width="0.6"/>
<line x1="263.7" y1="261.86" x2="442" y2="261.86" stroke="#f1f1f1" stroke-width="0.6"/>
<line x1="263.7" y1="255.29" x2="442" y2="255.29" stroke="#f1f1f1" stroke-width="0.6"/>
<line x1="263.7" y1="249.93" x2="442" y2="249.93" stroke="#f1f1f1" stroke-width="0.6"/>
<line x1="263.7" y1="245.39" x2="442" y2="245.39" stroke="#f1f1f1" stroke-width="0.6"/>
<line x1="263.7" y1="241.47" x2="442" y2="241.47" stroke="#f1f1f1" stroke-width="0.6"/>
<line x1="263.7" y1="238" x2="442" y2="238" stroke="#f1f1f1" stroke-width="0.6"/>
<line x1="263.7" y1="370.4" x2="442" y2="370.4" stroke="#e8e8e8" stroke-width="0.6"/>
<line x1="263.7" y1="302.65" x2="442" y2="302.65" stroke="#e8e8e8" stroke-width="0.6"/>
<line x1="263.7" y1="234.9" x2="442" y2="234.9" stroke="#e8e8e8" stroke-width="0.6"/>
<rect x="263.7" y="234.9" width="178.3" height="135.5" fill="none" stroke="#adadad" stroke-width="1.2"/>
<line x1="263.7" y1="368.4" x2="263.7" y2="370.4" stroke="#a0a0a0" stroke-width="0.6"/>
<line x1="263.7" y1="234.9" x2="263.7" y2="236.9" stroke="#a0a0a0" stroke-width="0.6"/>
<text x="263.7" y="379.3" font-size="5.6" text-anchor="middle" fill="#484848">0</text>
<line x1="292.52" y1="368.4" x2="292.52" y2="370.4" stroke="#a0a0a0" stroke-width="0.6"/>
<line x1="292.52" y1="234.9" x2="292.52" y2="236.9" stroke="#a0a0a0" stroke-width="0.6"/>
<text x="292.52" y="379.3" font-size="5.6" text-anchor="middle" fill="#484848">50</text>
<line x1="321.35" y1="368.4" x2="321.35" y2="370.4" stroke="#a0a0a0" stroke-width="0.6"/>
<line x1="321.35" y1="234.9" x2="321.35" y2="236.9" stroke="#a0a0a0" stroke-width="0.6"/>
<text x="321.35" y="379.3" font-size="5.6" text-anchor="middle" fill="#484848">100</text>
<line x1="350.18" y1="368.4" x2="350.18" y2="370.4" stroke="#a0a0a0" stroke-width="0.6"/>
<line x1="350.18" y1="234.9" x2="350.18" y2="236.9" stroke="#a0a0a0" stroke-width="0.6"/>
<text x="350.18" y="379.3" font-size="5.6" text-anchor="middle" fill="#484848">150</text>
<line x1="379" y1="368.4" x2="379" y2="370.4" stroke="#a0a0a0" stroke-width="0.6"/>
<line x1="379" y1="234.9" x2="379" y2="236.9" stroke="#a0a0a0" stroke-width="0.6"/>
<text x="379" y="379.3" font-size="5.6" text-anchor="middle" fill="#484848">200</text>
<line x1="407.82" y1="368.4" x2="407.82" y2="370.4" stroke="#a0a0a0" stroke-width="0.6"/>
<line x1="407.82" y1="234.9" x2="407.82" y2="236.9" stroke="#a0a0a0" stroke-width="0.6"/>
<text x="407.82" y="379.3" font-size="5.6" text-anchor="middle" fill="#484848">250</text>
<line x1="436.65" y1="368.4" x2="436.65" y2="370.4" stroke="#a0a0a0" stroke-width="0.6"/>
<line x1="436.65" y1="234.9" x2="436.65" y2="236.9" stroke="#a0a0a0" stroke-width="0.6"/>
<text x="436.65" y="379.3" font-size="5.6" text-anchor="middle" fill="#484848">300</text>
<line x1="263.7" y1="370.4" x2="265.7" y2="370.4" stroke="#a0a0a0" stroke-width="0.6"/>
<line x1="440" y1="370.4" x2="442" y2="370.4" stroke="#a0a0a0" stroke-width="0.6"/>
<line x1="263.7" y1="302.65" x2="265.7" y2="302.65" stroke="#a0a0a0" stroke-width="0.6"/>
<line x1="440" y1="302.65" x2="442" y2="302.65" stroke="#a0a0a0" stroke-width="0.6"/>
<line x1="263.7" y1="234.9" x2="265.7" y2="234.9" stroke="#a0a0a0" stroke-width="0.6"/>
<line x1="440" y1="234.9" x2="442" y2="234.9" stroke="#a0a0a0" stroke-width="0.6"/>
<line x1="263.7" y1="350.01" x2="264.9" y2="350.01" stroke="#a0a0a0" stroke-width="0.6"/>
<line x1="440.8" y1="350.01" x2="442" y2="350.01" stroke="#a0a0a0" stroke-width="0.6"/>
<line x1="263.7" y1="338.08" x2="264.9" y2="338.08" stroke="#a0a0a0" stroke-width="0.6"/>
<line x1="440.8" y1="338.08" x2="442" y2="338.08" stroke="#a0a0a0" stroke-width="0.6"/>
<line x1="263.7" y1="329.61" x2="264.9" y2="329.61" stroke="#a0a0a0" stroke-width="0.6"/>
<line x1="440.8" y1="329.61" x2="442" y2="329.61" stroke="#a0a0a0" stroke-width="0.6"/>
<line x1="263.7" y1="323.04" x2="264.9" y2="323.04" stroke="#a0a0a0" stroke-width="0.6"/>
<line x1="440.8" y1="323.04" x2="442" y2="323.04" stroke="#a0a0a0" stroke-width="0.6"/>
<line x1="263.7" y1="317.68" x2="264.9" y2="317.68" stroke="#a0a0a0" stroke-width="0.6"/>
<line x1="440.8" y1="317.68" x2="442" y2="317.68" stroke="#a0a0a0" stroke-width="0.6"/>
<line x1="263.7" y1="313.14" x2="264.9" y2="313.14" stroke="#a0a0a0" stroke-width="0.6"/>
<line x1="440.8" y1="313.14" x2="442" y2="313.14" stroke="#a0a0a0" stroke-width="0.6"/>
<line x1="263.7" y1="309.22" x2="264.9" y2="309.22" stroke="#a0a0a0" stroke-width="0.6"/>
<line x1="440.8" y1="309.22" x2="442" y2="309.22" stroke="#a0a0a0" stroke-width="0.6"/>
<line x1="263.7" y1="305.75" x2="264.9" y2="305.75" stroke="#a0a0a0" stroke-width="0.6"/>
<line x1="440.8" y1="305.75" x2="442" y2="305.75" stroke="#a0a0a0" stroke-width="0.6"/>
<line x1="263.7" y1="282.26" x2="264.9" y2="282.26" stroke="#a0a0a0" stroke-width="0.6"/>
<line x1="440.8" y1="282.26" x2="442" y2="282.26" stroke="#a0a0a0" stroke-width="0.6"/>
<line x1="263.7" y1="270.33" x2="264.9" y2="270.33" stroke="#a0a0a0" stroke-width="0.6"/>
<line x1="440.8" y1="270.33" x2="442" y2="270.33" stroke="#a0a0a0" stroke-width="0.6"/>
<line x1="263.7" y1="261.86" x2="264.9" y2="261.86" stroke="#a0a0a0" stroke-width="0.6"/>
<line x1="440.8" y1="261.86" x2="442" y2="261.86" stroke="#a0a0a0" stroke-width="0.6"/>
<line x1="263.7" y1="255.29" x2="264.9" y2="255.29" stroke="#a0a0a0" stroke-width="0.6"/>
<line x1="440.8" y1="255.29" x2="442" y2="255.29" stroke="#a0a0a0" stroke-width="0.6"/>
<line x1="263.7" y1="249.93" x2="264.9" y2="249.93" stroke="#a0a0a0" stroke-width="0.6"/>
<line x1="440.8" y1="249.93" x2="442" y2="249.93" stroke="#a0a0a0" stroke-width="0.6"/>
<line x1="263.7" y1="245.39" x2="264.9" y2="245.39" stroke="#a0a0a0" stroke-width="0.6"/>
<line x1="440.8" y1="245.39" x2="442" y2="245.39" stroke="#a0a0a0" stroke-width="0.6"/>
<line x1="263.7" y1="241.47" x2="264.9" y2="241.47" stroke="#a0a0a0" stroke-width="0.6"/>
<line x1="440.8" y1="241.47" x2="442" y2="241.47" stroke="#a0a0a0" stroke-width="0.6"/>
<line x1="263.7" y1="238" x2="264.9" y2="238" stroke="#a0a0a0" stroke-width="0.6"/>
<line x1="440.8" y1="238" x2="442" y2="238" stroke="#a0a0a0" stroke-width="0.6"/>
<text x="253.05" y="373.2" font-size="5.5" fill="#484848">10</text>
<text x="259.46" y="370.3" font-size="4.2" fill="#484848">1</text>
<text x="253.05" y="305.45" font-size="5.5" fill="#484848">10</text>
<text x="259.46" y="302.55" font-size="4.2" fill="#484848">2</text>
<text x="253.05" y="237.7" font-size="5.5" fill="#484848">10</text>
<text x="259.46" y="234.8" font-size="4.2" fill="#484848">3</text>
<g fill="#0000ff"><circle cx="269.4" cy="306.61" r="1.8"/><circle cx="271.7" cy="306.63" r="1.8"/><circle cx="274" cy="306.65" r="1.8"/><circle cx="276.3" cy="306.67" r="1.8"/><circle cx="278.6" cy="306.69" r="1.8"/><circle cx="280.9" cy="306.71" r="1.8"/><circle cx="283.2" cy="306.73" r="1.8"/><circle cx="285.5" cy="306.75" r="1.8"/><circle cx="287.8" cy="306.78" r="1.8"/><circle cx="290.1" cy="306.79" r="1.8"/><circle cx="292.4" cy="306.61" r="1.8"/><circle cx="294.7" cy="306.42" r="1.8"/><circle cx="297" cy="306.28" r="1.8"/><circle cx="299.3" cy="306.14" r="1.8"/><circle cx="301.6" cy="305.91" r="1.8"/><circle cx="303.9" cy="305.63" r="1.8"/><circle cx="306.2" cy="304.82" r="1.8"/><circle cx="308.5" cy="303.12" r="1.8"/><circle cx="310.8" cy="300.02" r="1.8"/><circle cx="313.1" cy="297.33" r="1.8"/><circle cx="315.4" cy="295.09" r="1.8"/><circle cx="317.7" cy="293.4" r="1.8"/><circle cx="320" cy="291.9" r="1.8"/><circle cx="322.3" cy="290.46" r="1.8"/><circle cx="324.6" cy="289.41" r="1.8"/><circle cx="326.9" cy="288.36" r="1.8"/><circle cx="329.2" cy="287.29" r="1.8"/><circle cx="331.5" cy="286.07" r="1.8"/><circle cx="333.8" cy="284.84" r="1.8"/><circle cx="336.1" cy="283.79" r="1.8"/><circle cx="338.4" cy="282.94" r="1.8"/><circle cx="340.7" cy="282.08" r="1.8"/><circle cx="343" cy="281.25" r="1.8"/><circle cx="345.3" cy="280.45" r="1.8"/><circle cx="347.6" cy="279.64" r="1.8"/><circle cx="349.9" cy="278.84" r="1.8"/><circle cx="352.2" cy="278.36" r="1.8"/><circle cx="354.5" cy="277.9" r="1.8"/><circle cx="356.8" cy="277.44" r="1.8"/><circle cx="359.1" cy="276.98" r="1.8"/><circle cx="361.4" cy="276.52" r="1.8"/><circle cx="363.7" cy="276.17" r="1.8"/><circle cx="366" cy="275.83" r="1.8"/><circle cx="368.3" cy="275.49" r="1.8"/><circle cx="370.6" cy="275.15" r="1.8"/><circle cx="372.9" cy="274.8" r="1.8"/><circle cx="375.2" cy="274.46" r="1.8"/><circle cx="377.5" cy="274.12" r="1.8"/><circle cx="379.8" cy="273.78" r="1.8"/><circle cx="382.1" cy="273.43" r="1.8"/><circle cx="384.4" cy="273.16" r="1.8"/><circle cx="386.7" cy="272.92" r="1.8"/><circle cx="389" cy="272.69" r="1.8"/><circle cx="391.3" cy="272.45" r="1.8"/><circle cx="393.6" cy="272.22" r="1.8"/><circle cx="395.9" cy="271.98" r="1.8"/><circle cx="398.2" cy="271.74" r="1.8"/><circle cx="400.5" cy="271.51" r="1.8"/><circle cx="402.8" cy="271.27" r="1.8"/><circle cx="405.1" cy="271.03" r="1.8"/><circle cx="407.4" cy="270.75" r="1.8"/><circle cx="409.7" cy="270.47" r="1.8"/><circle cx="412" cy="270.19" r="1.8"/><circle cx="414.3" cy="269.91" r="1.8"/><circle cx="416.6" cy="269.64" r="1.8"/><circle cx="418.9" cy="269.36" r="1.8"/><circle cx="421.2" cy="269.08" r="1.8"/><circle cx="423.5" cy="268.8" r="1.8"/><circle cx="425.8" cy="268.52" r="1.8"/><circle cx="428.1" cy="268.39" r="1.8"/><circle cx="430.4" cy="268.28" r="1.8"/><circle cx="432.7" cy="268.16" r="1.8"/><circle cx="435" cy="268.04" r="1.8"/></g>
<g fill="#ff0000"><circle cx="269.4" cy="290.85" r="1.8"/><circle cx="271.7" cy="290.92" r="1.8"/><circle cx="274" cy="291" r="1.8"/><circle cx="276.3" cy="291.08" r="1.8"/><circle cx="278.6" cy="291.15" r="1.8"/><circle cx="280.9" cy="291.26" r="1.8"/><circle cx="283.2" cy="291.42" r="1.8"/><circle cx="285.5" cy="291.58" r="1.8"/><circle cx="287.8" cy="291.75" r="1.8"/><circle cx="290.1" cy="291.9" r="1.8"/><circle cx="292.4" cy="291.81" r="1.8"/><circle cx="294.7" cy="291.72" r="1.8"/><circle cx="297" cy="291.21" r="1.8"/><circle cx="299.3" cy="290.59" r="1.8"/><circle cx="301.6" cy="289.87" r="1.8"/><circle cx="303.9" cy="289.49" r="1.8"/><circle cx="306.2" cy="289.84" r="1.8"/><circle cx="308.5" cy="289.55" r="1.8"/><circle cx="310.8" cy="288.87" r="1.8"/><circle cx="313.1" cy="288.22" r="1.8"/><circle cx="315.4" cy="287.57" r="1.8"/><circle cx="317.7" cy="286.83" r="1.8"/><circle cx="320" cy="286.07" r="1.8"/><circle cx="322.3" cy="285.32" r="1.8"/><circle cx="324.6" cy="284.69" r="1.8"/><circle cx="326.9" cy="284.07" r="1.8"/><circle cx="329.2" cy="283.45" r="1.8"/><circle cx="331.5" cy="282.92" r="1.8"/><circle cx="333.8" cy="282.38" r="1.8"/><circle cx="336.1" cy="281.91" r="1.8"/><circle cx="338.4" cy="281.52" r="1.8"/><circle cx="340.7" cy="281.12" r="1.8"/><circle cx="343" cy="280.7" r="1.8"/><circle cx="345.3" cy="280.24" r="1.8"/><circle cx="347.6" cy="279.78" r="1.8"/><circle cx="349.9" cy="279.32" r="1.8"/><circle cx="352.2" cy="279.05" r="1.8"/><circle cx="354.5" cy="278.79" r="1.8"/><circle cx="356.8" cy="278.53" r="1.8"/><circle cx="359.1" cy="278.27" r="1.8"/><circle cx="361.4" cy="278.01" r="1.8"/><circle cx="363.7" cy="277.67" r="1.8"/><circle cx="366" cy="277.33" r="1.8"/><circle cx="368.3" cy="276.99" r="1.8"/><circle cx="370.6" cy="276.65" r="1.8"/><circle cx="372.9" cy="276.3" r="1.8"/><circle cx="375.2" cy="275.96" r="1.8"/><circle cx="377.5" cy="275.62" r="1.8"/><circle cx="379.8" cy="275.28" r="1.8"/><circle cx="382.1" cy="274.93" r="1.8"/><circle cx="384.4" cy="274.67" r="1.8"/><circle cx="386.7" cy="274.46" r="1.8"/><circle cx="389" cy="274.24" r="1.8"/><circle cx="391.3" cy="274.03" r="1.8"/><circle cx="393.6" cy="273.81" r="1.8"/><circle cx="395.9" cy="273.6" r="1.8"/><circle cx="398.2" cy="273.39" r="1.8"/><circle cx="400.5" cy="273.17" r="1.8"/><circle cx="402.8" cy="272.96" r="1.8"/><circle cx="405.1" cy="272.75" r="1.8"/><circle cx="407.4" cy="272.57" r="1.8"/><circle cx="409.7" cy="272.39" r="1.8"/><circle cx="412" cy="272.21" r="1.8"/><circle cx="414.3" cy="272.03" r="1.8"/><circle cx="416.6" cy="271.84" r="1.8"/><circle cx="418.9" cy="271.66" r="1.8"/><circle cx="421.2" cy="271.48" r="1.8"/><circle cx="423.5" cy="271.3" r="1.8"/><circle cx="425.8" cy="271.12" r="1.8"/><circle cx="428.1" cy="270.99" r="1.8"/><circle cx="430.4" cy="270.88" r="1.8"/><circle cx="432.7" cy="270.76" r="1.8"/><circle cx="435" cy="270.64" r="1.8"/></g>
<rect x="295.3" y="260.1" width="46.2" height="70.3" fill="rgb(255,176,0)" fill-opacity="0.24" stroke="rgb(255,176,0)" stroke-width="1.2"/>
<line x1="342" y1="244.7" x2="342" y2="351.5" stroke="#000" stroke-width="2.2" stroke-dasharray="5,3.4"/>
<line x1="300" y1="343" x2="339" y2="343" stroke="rgb(255,176,0)" stroke-width="1.5"/>
<path d="M297.3,343 L302.3,340.6 L301.3,343 L302.3,345.4 Z" fill="rgb(255,176,0)" stroke="rgb(255,176,0)" stroke-width="0.6"/>
<path d="M341.4,343 L336.4,340.6 L337.4,343 L336.4,345.4 Z" fill="rgb(255,176,0)" stroke="rgb(255,176,0)" stroke-width="0.6"/>
<text x="314.2" y="358.6" font-family='"Liberation Serif", serif' font-size="11" font-weight="bold" fill="rgb(255,176,0)">Δt</text>
<text x="324.4" y="361.2" font-family='"Liberation Serif", serif' font-size="9" font-weight="bold" fill="rgb(255,176,0)">gel</text>
<text x="269" y="256.5" font-size="8.7" text-anchor="start" font-weight="bold" fill="#000" >Liquid-like</text>
<text x="378.8" y="316.5" font-size="8.8" text-anchor="start" font-weight="bold" fill="#000" >Solid-like</text>
<text x="352.1" y="392.8" font-size="11" text-anchor="middle" font-weight="bold" fill="#000" >t [sec]</text>
<text transform="translate(249.0,302.6) rotate(-90)" font-size="11.1" font-weight="bold" text-anchor="middle" fill="#000" xml:space="preserve">G', G''  [Pa]</text>
</svg></body></html>
